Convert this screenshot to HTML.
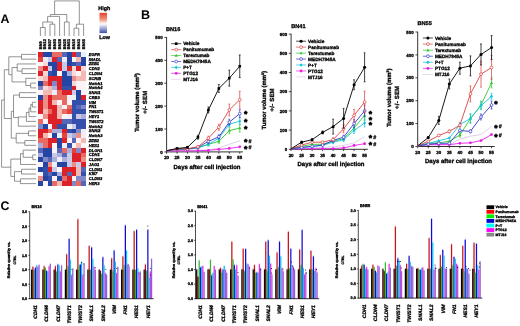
<!DOCTYPE html>
<html lang="en"><head><meta charset="utf-8"><title>Figure</title>
<style>
html,body{margin:0;padding:0;background:#fff;}
body{width:520px;height:326px;overflow:hidden;}
svg{display:block;font-family:"Liberation Sans",Arial,sans-serif;}
</style></head><body>
<svg width="520" height="326" viewBox="0 0 520 326" text-rendering="geometricPrecision">
<rect x="0" y="0" width="520" height="326" fill="#ffffff"/>
<g shape-rendering="crispEdges">
<rect x="38.00" y="52.00" width="4.85" height="4.84" fill="#dc2228"/>
<rect x="42.80" y="52.00" width="4.85" height="4.84" fill="#2445a4"/>
<rect x="47.60" y="52.00" width="4.85" height="4.84" fill="#2445a4"/>
<rect x="52.40" y="52.00" width="4.85" height="4.84" fill="#e96a62"/>
<rect x="57.20" y="52.00" width="4.85" height="4.84" fill="#e96a62"/>
<rect x="62.00" y="52.00" width="4.85" height="4.84" fill="#5666b8"/>
<rect x="66.80" y="52.00" width="4.85" height="4.84" fill="#2445a4"/>
<rect x="71.60" y="52.00" width="4.85" height="4.84" fill="#dc2228"/>
<rect x="76.40" y="52.00" width="4.85" height="4.84" fill="#5666b8"/>
<rect x="81.20" y="52.00" width="4.85" height="4.84" fill="#eeeef8"/>
<rect x="38.00" y="56.79" width="4.85" height="4.84" fill="#e2433c"/>
<rect x="42.80" y="56.79" width="4.85" height="4.84" fill="#eeeef8"/>
<rect x="47.60" y="56.79" width="4.85" height="4.84" fill="#c9c9e8"/>
<rect x="52.40" y="56.79" width="4.85" height="4.84" fill="#dc2228"/>
<rect x="57.20" y="56.79" width="4.85" height="4.84" fill="#5666b8"/>
<rect x="62.00" y="56.79" width="4.85" height="4.84" fill="#eeeef8"/>
<rect x="66.80" y="56.79" width="4.85" height="4.84" fill="#2445a4"/>
<rect x="71.60" y="56.79" width="4.85" height="4.84" fill="#fbf3f5"/>
<rect x="76.40" y="56.79" width="4.85" height="4.84" fill="#f4b9b3"/>
<rect x="81.20" y="56.79" width="4.85" height="4.84" fill="#2445a4"/>
<rect x="38.00" y="61.57" width="4.85" height="4.84" fill="#fbf3f5"/>
<rect x="42.80" y="61.57" width="4.85" height="4.84" fill="#f9d9d5"/>
<rect x="47.60" y="61.57" width="4.85" height="4.84" fill="#2445a4"/>
<rect x="52.40" y="61.57" width="4.85" height="4.84" fill="#2445a4"/>
<rect x="57.20" y="61.57" width="4.85" height="4.84" fill="#dc2228"/>
<rect x="62.00" y="61.57" width="4.85" height="4.84" fill="#c9c9e8"/>
<rect x="66.80" y="61.57" width="4.85" height="4.84" fill="#2445a4"/>
<rect x="71.60" y="61.57" width="4.85" height="4.84" fill="#3350ad"/>
<rect x="76.40" y="61.57" width="4.85" height="4.84" fill="#5666b8"/>
<rect x="81.20" y="61.57" width="4.85" height="4.84" fill="#2445a4"/>
<rect x="38.00" y="66.36" width="4.85" height="4.84" fill="#ee8d86"/>
<rect x="42.80" y="66.36" width="4.85" height="4.84" fill="#dc2228"/>
<rect x="47.60" y="66.36" width="4.85" height="4.84" fill="#c9c9e8"/>
<rect x="52.40" y="66.36" width="4.85" height="4.84" fill="#2445a4"/>
<rect x="57.20" y="66.36" width="4.85" height="4.84" fill="#dc2228"/>
<rect x="62.00" y="66.36" width="4.85" height="4.84" fill="#c9c9e8"/>
<rect x="66.80" y="66.36" width="4.85" height="4.84" fill="#dc2228"/>
<rect x="71.60" y="66.36" width="4.85" height="4.84" fill="#f9d9d5"/>
<rect x="76.40" y="66.36" width="4.85" height="4.84" fill="#dc2228"/>
<rect x="81.20" y="66.36" width="4.85" height="4.84" fill="#f9d9d5"/>
<rect x="38.00" y="71.14" width="4.85" height="4.84" fill="#dc2228"/>
<rect x="42.80" y="71.14" width="4.85" height="4.84" fill="#f9d9d5"/>
<rect x="47.60" y="71.14" width="4.85" height="4.84" fill="#3350ad"/>
<rect x="52.40" y="71.14" width="4.85" height="4.84" fill="#2445a4"/>
<rect x="57.20" y="71.14" width="4.85" height="4.84" fill="#fbf3f5"/>
<rect x="62.00" y="71.14" width="4.85" height="4.84" fill="#2445a4"/>
<rect x="66.80" y="71.14" width="4.85" height="4.84" fill="#a9aedb"/>
<rect x="71.60" y="71.14" width="4.85" height="4.84" fill="#f9d9d5"/>
<rect x="76.40" y="71.14" width="4.85" height="4.84" fill="#fbf3f5"/>
<rect x="81.20" y="71.14" width="4.85" height="4.84" fill="#f4b9b3"/>
<rect x="38.00" y="75.93" width="4.85" height="4.84" fill="#f9d9d5"/>
<rect x="42.80" y="75.93" width="4.85" height="4.84" fill="#f4b9b3"/>
<rect x="47.60" y="75.93" width="4.85" height="4.84" fill="#dc2228"/>
<rect x="52.40" y="75.93" width="4.85" height="4.84" fill="#dc2228"/>
<rect x="57.20" y="75.93" width="4.85" height="4.84" fill="#dc2228"/>
<rect x="62.00" y="75.93" width="4.85" height="4.84" fill="#2445a4"/>
<rect x="66.80" y="75.93" width="4.85" height="4.84" fill="#2445a4"/>
<rect x="71.60" y="75.93" width="4.85" height="4.84" fill="#ee8d86"/>
<rect x="76.40" y="75.93" width="4.85" height="4.84" fill="#f4b9b3"/>
<rect x="81.20" y="75.93" width="4.85" height="4.84" fill="#f4b9b3"/>
<rect x="38.00" y="80.71" width="4.85" height="4.84" fill="#2445a4"/>
<rect x="42.80" y="80.71" width="4.85" height="4.84" fill="#e96a62"/>
<rect x="47.60" y="80.71" width="4.85" height="4.84" fill="#dc2228"/>
<rect x="52.40" y="80.71" width="4.85" height="4.84" fill="#8088c8"/>
<rect x="57.20" y="80.71" width="4.85" height="4.84" fill="#dc2228"/>
<rect x="62.00" y="80.71" width="4.85" height="4.84" fill="#2445a4"/>
<rect x="66.80" y="80.71" width="4.85" height="4.84" fill="#2445a4"/>
<rect x="71.60" y="80.71" width="4.85" height="4.84" fill="#f9d9d5"/>
<rect x="76.40" y="80.71" width="4.85" height="4.84" fill="#fbf3f5"/>
<rect x="81.20" y="80.71" width="4.85" height="4.84" fill="#fbf3f5"/>
<rect x="38.00" y="85.50" width="4.85" height="4.84" fill="#8088c8"/>
<rect x="42.80" y="85.50" width="4.85" height="4.84" fill="#f9d9d5"/>
<rect x="47.60" y="85.50" width="4.85" height="4.84" fill="#f4b9b3"/>
<rect x="52.40" y="85.50" width="4.85" height="4.84" fill="#a9aedb"/>
<rect x="57.20" y="85.50" width="4.85" height="4.84" fill="#dc2228"/>
<rect x="62.00" y="85.50" width="4.85" height="4.84" fill="#3350ad"/>
<rect x="66.80" y="85.50" width="4.85" height="4.84" fill="#3350ad"/>
<rect x="71.60" y="85.50" width="4.85" height="4.84" fill="#dc2228"/>
<rect x="76.40" y="85.50" width="4.85" height="4.84" fill="#fbf3f5"/>
<rect x="81.20" y="85.50" width="4.85" height="4.84" fill="#fbf3f5"/>
<rect x="38.00" y="90.29" width="4.85" height="4.84" fill="#fbf3f5"/>
<rect x="42.80" y="90.29" width="4.85" height="4.84" fill="#f4b9b3"/>
<rect x="47.60" y="90.29" width="4.85" height="4.84" fill="#f4b9b3"/>
<rect x="52.40" y="90.29" width="4.85" height="4.84" fill="#eeeef8"/>
<rect x="57.20" y="90.29" width="4.85" height="4.84" fill="#e96a62"/>
<rect x="62.00" y="90.29" width="4.85" height="4.84" fill="#dc2228"/>
<rect x="66.80" y="90.29" width="4.85" height="4.84" fill="#dc2228"/>
<rect x="71.60" y="90.29" width="4.85" height="4.84" fill="#c9c9e8"/>
<rect x="76.40" y="90.29" width="4.85" height="4.84" fill="#2445a4"/>
<rect x="81.20" y="90.29" width="4.85" height="4.84" fill="#fbf3f5"/>
<rect x="38.00" y="95.07" width="4.85" height="4.84" fill="#2445a4"/>
<rect x="42.80" y="95.07" width="4.85" height="4.84" fill="#ee8d86"/>
<rect x="47.60" y="95.07" width="4.85" height="4.84" fill="#dc2228"/>
<rect x="52.40" y="95.07" width="4.85" height="4.84" fill="#e96a62"/>
<rect x="57.20" y="95.07" width="4.85" height="4.84" fill="#e96a62"/>
<rect x="62.00" y="95.07" width="4.85" height="4.84" fill="#e96a62"/>
<rect x="66.80" y="95.07" width="4.85" height="4.84" fill="#eeeef8"/>
<rect x="71.60" y="95.07" width="4.85" height="4.84" fill="#eeeef8"/>
<rect x="76.40" y="95.07" width="4.85" height="4.84" fill="#2445a4"/>
<rect x="81.20" y="95.07" width="4.85" height="4.84" fill="#dc2228"/>
<rect x="38.00" y="99.86" width="4.85" height="4.84" fill="#dc2228"/>
<rect x="42.80" y="99.86" width="4.85" height="4.84" fill="#ee8d86"/>
<rect x="47.60" y="99.86" width="4.85" height="4.84" fill="#dc2228"/>
<rect x="52.40" y="99.86" width="4.85" height="4.84" fill="#f4b9b3"/>
<rect x="57.20" y="99.86" width="4.85" height="4.84" fill="#fbf3f5"/>
<rect x="62.00" y="99.86" width="4.85" height="4.84" fill="#e96a62"/>
<rect x="66.80" y="99.86" width="4.85" height="4.84" fill="#fbf3f5"/>
<rect x="71.60" y="99.86" width="4.85" height="4.84" fill="#3350ad"/>
<rect x="76.40" y="99.86" width="4.85" height="4.84" fill="#3350ad"/>
<rect x="81.20" y="99.86" width="4.85" height="4.84" fill="#3350ad"/>
<rect x="38.00" y="104.64" width="4.85" height="4.84" fill="#dc2228"/>
<rect x="42.80" y="104.64" width="4.85" height="4.84" fill="#ee8d86"/>
<rect x="47.60" y="104.64" width="4.85" height="4.84" fill="#dc2228"/>
<rect x="52.40" y="104.64" width="4.85" height="4.84" fill="#dc2228"/>
<rect x="57.20" y="104.64" width="4.85" height="4.84" fill="#f4b9b3"/>
<rect x="62.00" y="104.64" width="4.85" height="4.84" fill="#fbf3f5"/>
<rect x="66.80" y="104.64" width="4.85" height="4.84" fill="#e96a62"/>
<rect x="71.60" y="104.64" width="4.85" height="4.84" fill="#3350ad"/>
<rect x="76.40" y="104.64" width="4.85" height="4.84" fill="#5666b8"/>
<rect x="81.20" y="104.64" width="4.85" height="4.84" fill="#8088c8"/>
<rect x="38.00" y="109.43" width="4.85" height="4.84" fill="#dc2228"/>
<rect x="42.80" y="109.43" width="4.85" height="4.84" fill="#f4b9b3"/>
<rect x="47.60" y="109.43" width="4.85" height="4.84" fill="#e96a62"/>
<rect x="52.40" y="109.43" width="4.85" height="4.84" fill="#dc2228"/>
<rect x="57.20" y="109.43" width="4.85" height="4.84" fill="#f4b9b3"/>
<rect x="62.00" y="109.43" width="4.85" height="4.84" fill="#e96a62"/>
<rect x="66.80" y="109.43" width="4.85" height="4.84" fill="#e2433c"/>
<rect x="71.60" y="109.43" width="4.85" height="4.84" fill="#3350ad"/>
<rect x="76.40" y="109.43" width="4.85" height="4.84" fill="#3350ad"/>
<rect x="81.20" y="109.43" width="4.85" height="4.84" fill="#3350ad"/>
<rect x="38.00" y="114.21" width="4.85" height="4.84" fill="#fbf3f5"/>
<rect x="42.80" y="114.21" width="4.85" height="4.84" fill="#ee8d86"/>
<rect x="47.60" y="114.21" width="4.85" height="4.84" fill="#dc2228"/>
<rect x="52.40" y="114.21" width="4.85" height="4.84" fill="#dc2228"/>
<rect x="57.20" y="114.21" width="4.85" height="4.84" fill="#f4b9b3"/>
<rect x="62.00" y="114.21" width="4.85" height="4.84" fill="#fbf3f5"/>
<rect x="66.80" y="114.21" width="4.85" height="4.84" fill="#eeeef8"/>
<rect x="71.60" y="114.21" width="4.85" height="4.84" fill="#3350ad"/>
<rect x="76.40" y="114.21" width="4.85" height="4.84" fill="#c9c9e8"/>
<rect x="81.20" y="114.21" width="4.85" height="4.84" fill="#a9aedb"/>
<rect x="38.00" y="119.00" width="4.85" height="4.84" fill="#e96a62"/>
<rect x="42.80" y="119.00" width="4.85" height="4.84" fill="#fbf3f5"/>
<rect x="47.60" y="119.00" width="4.85" height="4.84" fill="#dc2228"/>
<rect x="52.40" y="119.00" width="4.85" height="4.84" fill="#dc2228"/>
<rect x="57.20" y="119.00" width="4.85" height="4.84" fill="#dc2228"/>
<rect x="62.00" y="119.00" width="4.85" height="4.84" fill="#5666b8"/>
<rect x="66.80" y="119.00" width="4.85" height="4.84" fill="#5666b8"/>
<rect x="71.60" y="119.00" width="4.85" height="4.84" fill="#3350ad"/>
<rect x="76.40" y="119.00" width="4.85" height="4.84" fill="#3350ad"/>
<rect x="81.20" y="119.00" width="4.85" height="4.84" fill="#3350ad"/>
<rect x="38.00" y="123.79" width="4.85" height="4.84" fill="#8088c8"/>
<rect x="42.80" y="123.79" width="4.85" height="4.84" fill="#2445a4"/>
<rect x="47.60" y="123.79" width="4.85" height="4.84" fill="#fbf3f5"/>
<rect x="52.40" y="123.79" width="4.85" height="4.84" fill="#dc2228"/>
<rect x="57.20" y="123.79" width="4.85" height="4.84" fill="#3350ad"/>
<rect x="62.00" y="123.79" width="4.85" height="4.84" fill="#3350ad"/>
<rect x="66.80" y="123.79" width="4.85" height="4.84" fill="#eeeef8"/>
<rect x="71.60" y="123.79" width="4.85" height="4.84" fill="#c9c9e8"/>
<rect x="76.40" y="123.79" width="4.85" height="4.84" fill="#3350ad"/>
<rect x="81.20" y="123.79" width="4.85" height="4.84" fill="#3350ad"/>
<rect x="38.00" y="128.57" width="4.85" height="4.84" fill="#dc2228"/>
<rect x="42.80" y="128.57" width="4.85" height="4.84" fill="#dc2228"/>
<rect x="47.60" y="128.57" width="4.85" height="4.84" fill="#e96a62"/>
<rect x="52.40" y="128.57" width="4.85" height="4.84" fill="#a9aedb"/>
<rect x="57.20" y="128.57" width="4.85" height="4.84" fill="#a9aedb"/>
<rect x="62.00" y="128.57" width="4.85" height="4.84" fill="#dc2228"/>
<rect x="66.80" y="128.57" width="4.85" height="4.84" fill="#3350ad"/>
<rect x="71.60" y="128.57" width="4.85" height="4.84" fill="#2445a4"/>
<rect x="76.40" y="128.57" width="4.85" height="4.84" fill="#8088c8"/>
<rect x="81.20" y="128.57" width="4.85" height="4.84" fill="#eeeef8"/>
<rect x="38.00" y="133.36" width="4.85" height="4.84" fill="#dc2228"/>
<rect x="42.80" y="133.36" width="4.85" height="4.84" fill="#f4b9b3"/>
<rect x="47.60" y="133.36" width="4.85" height="4.84" fill="#fbf3f5"/>
<rect x="52.40" y="133.36" width="4.85" height="4.84" fill="#2445a4"/>
<rect x="57.20" y="133.36" width="4.85" height="4.84" fill="#eeeef8"/>
<rect x="62.00" y="133.36" width="4.85" height="4.84" fill="#e2433c"/>
<rect x="66.80" y="133.36" width="4.85" height="4.84" fill="#c9c9e8"/>
<rect x="71.60" y="133.36" width="4.85" height="4.84" fill="#a9aedb"/>
<rect x="76.40" y="133.36" width="4.85" height="4.84" fill="#ee8d86"/>
<rect x="81.20" y="133.36" width="4.85" height="4.84" fill="#eeeef8"/>
<rect x="38.00" y="138.14" width="4.85" height="4.84" fill="#e96a62"/>
<rect x="42.80" y="138.14" width="4.85" height="4.84" fill="#e96a62"/>
<rect x="47.60" y="138.14" width="4.85" height="4.84" fill="#dc2228"/>
<rect x="52.40" y="138.14" width="4.85" height="4.84" fill="#dc2228"/>
<rect x="57.20" y="138.14" width="4.85" height="4.84" fill="#2445a4"/>
<rect x="62.00" y="138.14" width="4.85" height="4.84" fill="#dc2228"/>
<rect x="66.80" y="138.14" width="4.85" height="4.84" fill="#fbf3f5"/>
<rect x="71.60" y="138.14" width="4.85" height="4.84" fill="#5666b8"/>
<rect x="76.40" y="138.14" width="4.85" height="4.84" fill="#fbf3f5"/>
<rect x="81.20" y="138.14" width="4.85" height="4.84" fill="#f4b9b3"/>
<rect x="38.00" y="142.93" width="4.85" height="4.84" fill="#a9aedb"/>
<rect x="42.80" y="142.93" width="4.85" height="4.84" fill="#e96a62"/>
<rect x="47.60" y="142.93" width="4.85" height="4.84" fill="#dc2228"/>
<rect x="52.40" y="142.93" width="4.85" height="4.84" fill="#fbf3f5"/>
<rect x="57.20" y="142.93" width="4.85" height="4.84" fill="#2445a4"/>
<rect x="62.00" y="142.93" width="4.85" height="4.84" fill="#eeeef8"/>
<rect x="66.80" y="142.93" width="4.85" height="4.84" fill="#3350ad"/>
<rect x="71.60" y="142.93" width="4.85" height="4.84" fill="#fbf3f5"/>
<rect x="76.40" y="142.93" width="4.85" height="4.84" fill="#f4b9b3"/>
<rect x="81.20" y="142.93" width="4.85" height="4.84" fill="#fbf3f5"/>
<rect x="38.00" y="147.71" width="4.85" height="4.84" fill="#5666b8"/>
<rect x="42.80" y="147.71" width="4.85" height="4.84" fill="#2445a4"/>
<rect x="47.60" y="147.71" width="4.85" height="4.84" fill="#2445a4"/>
<rect x="52.40" y="147.71" width="4.85" height="4.84" fill="#fbf3f5"/>
<rect x="57.20" y="147.71" width="4.85" height="4.84" fill="#5666b8"/>
<rect x="62.00" y="147.71" width="4.85" height="4.84" fill="#e96a62"/>
<rect x="66.80" y="147.71" width="4.85" height="4.84" fill="#a9aedb"/>
<rect x="71.60" y="147.71" width="4.85" height="4.84" fill="#e2433c"/>
<rect x="76.40" y="147.71" width="4.85" height="4.84" fill="#8088c8"/>
<rect x="81.20" y="147.71" width="4.85" height="4.84" fill="#dc2228"/>
<rect x="38.00" y="152.50" width="4.85" height="4.84" fill="#a9aedb"/>
<rect x="42.80" y="152.50" width="4.85" height="4.84" fill="#2445a4"/>
<rect x="47.60" y="152.50" width="4.85" height="4.84" fill="#2445a4"/>
<rect x="52.40" y="152.50" width="4.85" height="4.84" fill="#c9c9e8"/>
<rect x="57.20" y="152.50" width="4.85" height="4.84" fill="#a9aedb"/>
<rect x="62.00" y="152.50" width="4.85" height="4.84" fill="#5666b8"/>
<rect x="66.80" y="152.50" width="4.85" height="4.84" fill="#c9c9e8"/>
<rect x="71.60" y="152.50" width="4.85" height="4.84" fill="#dc2228"/>
<rect x="76.40" y="152.50" width="4.85" height="4.84" fill="#dc2228"/>
<rect x="81.20" y="152.50" width="4.85" height="4.84" fill="#e96a62"/>
<rect x="38.00" y="157.29" width="4.85" height="4.84" fill="#2445a4"/>
<rect x="42.80" y="157.29" width="4.85" height="4.84" fill="#8088c8"/>
<rect x="47.60" y="157.29" width="4.85" height="4.84" fill="#5666b8"/>
<rect x="52.40" y="157.29" width="4.85" height="4.84" fill="#a9aedb"/>
<rect x="57.20" y="157.29" width="4.85" height="4.84" fill="#eeeef8"/>
<rect x="62.00" y="157.29" width="4.85" height="4.84" fill="#a9aedb"/>
<rect x="66.80" y="157.29" width="4.85" height="4.84" fill="#c9c9e8"/>
<rect x="71.60" y="157.29" width="4.85" height="4.84" fill="#dc2228"/>
<rect x="76.40" y="157.29" width="4.85" height="4.84" fill="#dc2228"/>
<rect x="81.20" y="157.29" width="4.85" height="4.84" fill="#ee8d86"/>
<rect x="38.00" y="162.07" width="4.85" height="4.84" fill="#fbf3f5"/>
<rect x="42.80" y="162.07" width="4.85" height="4.84" fill="#2445a4"/>
<rect x="47.60" y="162.07" width="4.85" height="4.84" fill="#ee8d86"/>
<rect x="52.40" y="162.07" width="4.85" height="4.84" fill="#eeeef8"/>
<rect x="57.20" y="162.07" width="4.85" height="4.84" fill="#2445a4"/>
<rect x="62.00" y="162.07" width="4.85" height="4.84" fill="#2445a4"/>
<rect x="66.80" y="162.07" width="4.85" height="4.84" fill="#c9c9e8"/>
<rect x="71.60" y="162.07" width="4.85" height="4.84" fill="#ee8d86"/>
<rect x="76.40" y="162.07" width="4.85" height="4.84" fill="#c9c9e8"/>
<rect x="81.20" y="162.07" width="4.85" height="4.84" fill="#dc2228"/>
<rect x="38.00" y="166.86" width="4.85" height="4.84" fill="#2445a4"/>
<rect x="42.80" y="166.86" width="4.85" height="4.84" fill="#3350ad"/>
<rect x="47.60" y="166.86" width="4.85" height="4.84" fill="#dc2228"/>
<rect x="52.40" y="166.86" width="4.85" height="4.84" fill="#c9c9e8"/>
<rect x="57.20" y="166.86" width="4.85" height="4.84" fill="#fbf3f5"/>
<rect x="62.00" y="166.86" width="4.85" height="4.84" fill="#dc2228"/>
<rect x="66.80" y="166.86" width="4.85" height="4.84" fill="#dc2228"/>
<rect x="71.60" y="166.86" width="4.85" height="4.84" fill="#dc2228"/>
<rect x="76.40" y="166.86" width="4.85" height="4.84" fill="#f4b9b3"/>
<rect x="81.20" y="166.86" width="4.85" height="4.84" fill="#5666b8"/>
<rect x="38.00" y="171.64" width="4.85" height="4.84" fill="#fbf3f5"/>
<rect x="42.80" y="171.64" width="4.85" height="4.84" fill="#3350ad"/>
<rect x="47.60" y="171.64" width="4.85" height="4.84" fill="#5666b8"/>
<rect x="52.40" y="171.64" width="4.85" height="4.84" fill="#2445a4"/>
<rect x="57.20" y="171.64" width="4.85" height="4.84" fill="#a9aedb"/>
<rect x="62.00" y="171.64" width="4.85" height="4.84" fill="#dc2228"/>
<rect x="66.80" y="171.64" width="4.85" height="4.84" fill="#5666b8"/>
<rect x="71.60" y="171.64" width="4.85" height="4.84" fill="#dc2228"/>
<rect x="76.40" y="171.64" width="4.85" height="4.84" fill="#f4b9b3"/>
<rect x="81.20" y="171.64" width="4.85" height="4.84" fill="#3350ad"/>
<rect x="38.00" y="176.43" width="4.85" height="4.84" fill="#ee8d86"/>
<rect x="42.80" y="176.43" width="4.85" height="4.84" fill="#2445a4"/>
<rect x="47.60" y="176.43" width="4.85" height="4.84" fill="#3350ad"/>
<rect x="52.40" y="176.43" width="4.85" height="4.84" fill="#fbf3f5"/>
<rect x="57.20" y="176.43" width="4.85" height="4.84" fill="#2445a4"/>
<rect x="62.00" y="176.43" width="4.85" height="4.84" fill="#e96a62"/>
<rect x="66.80" y="176.43" width="4.85" height="4.84" fill="#dc2228"/>
<rect x="71.60" y="176.43" width="4.85" height="4.84" fill="#fbf3f5"/>
<rect x="76.40" y="176.43" width="4.85" height="4.84" fill="#8088c8"/>
<rect x="81.20" y="176.43" width="4.85" height="4.84" fill="#8088c8"/>
<rect x="38.00" y="181.21" width="4.85" height="4.84" fill="#2445a4"/>
<rect x="42.80" y="181.21" width="4.85" height="4.84" fill="#fbf3f5"/>
<rect x="47.60" y="181.21" width="4.85" height="4.84" fill="#2445a4"/>
<rect x="52.40" y="181.21" width="4.85" height="4.84" fill="#e96a62"/>
<rect x="57.20" y="181.21" width="4.85" height="4.84" fill="#f4b9b3"/>
<rect x="62.00" y="181.21" width="4.85" height="4.84" fill="#dc2228"/>
<rect x="66.80" y="181.21" width="4.85" height="4.84" fill="#dc2228"/>
<rect x="71.60" y="181.21" width="4.85" height="4.84" fill="#8088c8"/>
<rect x="76.40" y="181.21" width="4.85" height="4.84" fill="#e96a62"/>
<rect x="81.20" y="181.21" width="4.85" height="4.84" fill="#5666b8"/>
</g>
<text x="88.80" y="55.84" font-size="4.0px" font-weight="bold" font-style="italic" text-anchor="start" fill="#000" stroke="#000" stroke-width="0.3">EGFR</text>
<text x="88.80" y="60.63" font-size="4.0px" font-weight="bold" font-style="italic" text-anchor="start" fill="#000" stroke="#000" stroke-width="0.3">INADL</text>
<text x="88.80" y="65.41" font-size="4.0px" font-weight="bold" font-style="italic" text-anchor="start" fill="#000" stroke="#000" stroke-width="0.3">ZEB1</text>
<text x="88.80" y="70.20" font-size="4.0px" font-weight="bold" font-style="italic" text-anchor="start" fill="#000" stroke="#000" stroke-width="0.3">CDH2</text>
<text x="88.80" y="74.99" font-size="4.0px" font-weight="bold" font-style="italic" text-anchor="start" fill="#000" stroke="#000" stroke-width="0.3">CLDN4</text>
<text x="88.80" y="79.77" font-size="4.0px" font-weight="bold" font-style="italic" text-anchor="start" fill="#000" stroke="#000" stroke-width="0.3">SCRIB</text>
<text x="88.80" y="84.56" font-size="4.0px" font-weight="bold" font-style="italic" text-anchor="start" fill="#000" stroke="#000" stroke-width="0.3">Notch1</text>
<text x="88.80" y="89.34" font-size="4.0px" font-weight="bold" font-style="italic" text-anchor="start" fill="#000" stroke="#000" stroke-width="0.3">Notch4</text>
<text x="88.80" y="94.13" font-size="4.0px" font-weight="bold" font-style="italic" text-anchor="start" fill="#000" stroke="#000" stroke-width="0.3">SNAI1</text>
<text x="88.80" y="98.91" font-size="4.0px" font-weight="bold" font-style="italic" text-anchor="start" fill="#000" stroke="#000" stroke-width="0.3">CRB3</text>
<text x="88.80" y="103.70" font-size="4.0px" font-weight="bold" font-style="italic" text-anchor="start" fill="#000" stroke="#000" stroke-width="0.3">VIM</text>
<text x="88.80" y="108.49" font-size="4.0px" font-weight="bold" font-style="italic" text-anchor="start" fill="#000" stroke="#000" stroke-width="0.3">FN1</text>
<text x="88.80" y="113.27" font-size="4.0px" font-weight="bold" font-style="italic" text-anchor="start" fill="#000" stroke="#000" stroke-width="0.3">TWIST1</text>
<text x="88.80" y="118.06" font-size="4.0px" font-weight="bold" font-style="italic" text-anchor="start" fill="#000" stroke="#000" stroke-width="0.3">HEY1</text>
<text x="88.80" y="122.84" font-size="4.0px" font-weight="bold" font-style="italic" text-anchor="start" fill="#000" stroke="#000" stroke-width="0.3">TWIST2</text>
<text x="88.80" y="127.63" font-size="4.0px" font-weight="bold" font-style="italic" text-anchor="start" fill="#000" stroke="#000" stroke-width="0.3">Notch2</text>
<text x="88.80" y="132.41" font-size="4.0px" font-weight="bold" font-style="italic" text-anchor="start" fill="#000" stroke="#000" stroke-width="0.3">SNAI2</text>
<text x="88.80" y="137.20" font-size="4.0px" font-weight="bold" font-style="italic" text-anchor="start" fill="#000" stroke="#000" stroke-width="0.3">Notch3</text>
<text x="88.80" y="141.99" font-size="4.0px" font-weight="bold" font-style="italic" text-anchor="start" fill="#000" stroke="#000" stroke-width="0.3">ZEB2</text>
<text x="88.80" y="146.77" font-size="4.0px" font-weight="bold" font-style="italic" text-anchor="start" fill="#000" stroke="#000" stroke-width="0.3">HES1</text>
<text x="88.80" y="151.56" font-size="4.0px" font-weight="bold" font-style="italic" text-anchor="start" fill="#000" stroke="#000" stroke-width="0.3">DLGH1</text>
<text x="88.80" y="156.34" font-size="4.0px" font-weight="bold" font-style="italic" text-anchor="start" fill="#000" stroke="#000" stroke-width="0.3">CDH1</text>
<text x="88.80" y="161.13" font-size="4.0px" font-weight="bold" font-style="italic" text-anchor="start" fill="#000" stroke="#000" stroke-width="0.3">CLDN7</text>
<text x="88.80" y="165.91" font-size="4.0px" font-weight="bold" font-style="italic" text-anchor="start" fill="#000" stroke="#000" stroke-width="0.3">JAG1</text>
<text x="88.80" y="170.70" font-size="4.0px" font-weight="bold" font-style="italic" text-anchor="start" fill="#000" stroke="#000" stroke-width="0.3">CLDN1</text>
<text x="88.80" y="175.49" font-size="4.0px" font-weight="bold" font-style="italic" text-anchor="start" fill="#000" stroke="#000" stroke-width="0.3">Ki67</text>
<text x="88.80" y="180.27" font-size="4.0px" font-weight="bold" font-style="italic" text-anchor="start" fill="#000" stroke="#000" stroke-width="0.3">CLDN3</text>
<text x="88.80" y="185.06" font-size="4.0px" font-weight="bold" font-style="italic" text-anchor="start" fill="#000" stroke="#000" stroke-width="0.3">HER3</text>
<text x="41.70" y="49.20" font-size="4.0px" font-weight="bold" font-style="normal" text-anchor="start" fill="#000" transform="rotate(-90 41.70 49.20)" stroke="#000" stroke-width="0.3">BN9</text>
<text x="46.50" y="49.20" font-size="4.0px" font-weight="bold" font-style="normal" text-anchor="start" fill="#000" transform="rotate(-90 46.50 49.20)" stroke="#000" stroke-width="0.3">BN12</text>
<text x="51.30" y="49.20" font-size="4.0px" font-weight="bold" font-style="normal" text-anchor="start" fill="#000" transform="rotate(-90 51.30 49.20)" stroke="#000" stroke-width="0.3">BN37</text>
<text x="56.10" y="49.20" font-size="4.0px" font-weight="bold" font-style="normal" text-anchor="start" fill="#000" transform="rotate(-90 56.10 49.20)" stroke="#000" stroke-width="0.3">BN60</text>
<text x="60.90" y="49.20" font-size="4.0px" font-weight="bold" font-style="normal" text-anchor="start" fill="#000" transform="rotate(-90 60.90 49.20)" stroke="#000" stroke-width="0.3">BN28</text>
<text x="65.70" y="49.20" font-size="4.0px" font-weight="bold" font-style="normal" text-anchor="start" fill="#000" transform="rotate(-90 65.70 49.20)" stroke="#000" stroke-width="0.3">BN25</text>
<text x="70.50" y="49.20" font-size="4.0px" font-weight="bold" font-style="normal" text-anchor="start" fill="#000" transform="rotate(-90 70.50 49.20)" stroke="#000" stroke-width="0.3">BN51</text>
<text x="75.30" y="49.20" font-size="4.0px" font-weight="bold" font-style="normal" text-anchor="start" fill="#000" transform="rotate(-90 75.30 49.20)" stroke="#000" stroke-width="0.3">BN16</text>
<text x="80.10" y="49.20" font-size="4.0px" font-weight="bold" font-style="normal" text-anchor="start" fill="#000" transform="rotate(-90 80.10 49.20)" stroke="#000" stroke-width="0.3">BN41</text>
<text x="84.90" y="49.20" font-size="4.0px" font-weight="bold" font-style="normal" text-anchor="start" fill="#000" transform="rotate(-90 84.90 49.20)" stroke="#000" stroke-width="0.3">BN55</text>
<polyline points="40.40,36.00 40.40,27.50 45.20,27.50 45.20,36.00" fill="none" stroke="#666" stroke-width="0.7" stroke-linejoin="round"/>
<polyline points="50.00,36.00 50.00,24.20 54.80,24.20 54.80,36.00" fill="none" stroke="#666" stroke-width="0.7" stroke-linejoin="round"/>
<polyline points="42.80,27.50 42.80,22.00 52.40,22.00 52.40,24.20" fill="none" stroke="#666" stroke-width="0.7" stroke-linejoin="round"/>
<polyline points="47.60,22.00 47.60,16.40 59.60,16.40 59.60,36.00" fill="none" stroke="#666" stroke-width="0.7" stroke-linejoin="round"/>
<polyline points="64.40,36.00 64.40,22.00 69.20,22.00 69.20,36.00" fill="none" stroke="#666" stroke-width="0.7" stroke-linejoin="round"/>
<polyline points="50.60,16.40 50.60,14.50 66.80,14.50 66.80,22.00" fill="none" stroke="#666" stroke-width="0.7" stroke-linejoin="round"/>
<polyline points="74.00,36.00 74.00,28.20 78.80,28.20 78.80,36.00" fill="none" stroke="#666" stroke-width="0.7" stroke-linejoin="round"/>
<polyline points="76.40,28.20 76.40,24.20 83.60,24.20 83.60,36.00" fill="none" stroke="#666" stroke-width="0.7" stroke-linejoin="round"/>
<polyline points="54.60,14.50 54.60,0.90 79.30,0.90 79.30,24.20" fill="none" stroke="#666" stroke-width="0.7" stroke-linejoin="round"/>
<polyline points="36.20,54.39 21.50,54.39 21.50,59.18 36.20,59.18" fill="none" stroke="#666" stroke-width="0.7" stroke-linejoin="round"/>
<polyline points="36.20,68.75 22.00,68.75 22.00,73.54 36.20,73.54" fill="none" stroke="#666" stroke-width="0.7" stroke-linejoin="round"/>
<polyline points="36.20,63.96 17.20,63.96 17.20,71.14 22.00,71.14" fill="none" stroke="#666" stroke-width="0.7" stroke-linejoin="round"/>
<polyline points="36.20,83.11 30.70,83.11 30.70,87.89 36.20,87.89" fill="none" stroke="#666" stroke-width="0.7" stroke-linejoin="round"/>
<polyline points="36.20,78.32 25.80,78.32 25.80,85.50 30.70,85.50" fill="none" stroke="#666" stroke-width="0.7" stroke-linejoin="round"/>
<polyline points="17.20,67.55 12.00,67.55 12.00,81.91 25.80,81.91" fill="none" stroke="#666" stroke-width="0.7" stroke-linejoin="round"/>
<polyline points="21.50,56.79 8.80,56.79 8.80,74.73 12.00,74.73" fill="none" stroke="#666" stroke-width="0.7" stroke-linejoin="round"/>
<polyline points="36.20,92.68 19.40,92.68 19.40,97.46 36.20,97.46" fill="none" stroke="#666" stroke-width="0.7" stroke-linejoin="round"/>
<polyline points="36.20,102.25 32.30,102.25 32.30,107.04 36.20,107.04" fill="none" stroke="#666" stroke-width="0.7" stroke-linejoin="round"/>
<polyline points="32.30,104.64 30.70,104.64 30.70,111.82 36.20,111.82" fill="none" stroke="#666" stroke-width="0.7" stroke-linejoin="round"/>
<polyline points="30.70,108.23 29.00,108.23 29.00,116.61 36.20,116.61" fill="none" stroke="#666" stroke-width="0.7" stroke-linejoin="round"/>
<polyline points="29.00,112.42 26.40,112.42 26.40,121.39 36.20,121.39" fill="none" stroke="#666" stroke-width="0.7" stroke-linejoin="round"/>
<polyline points="26.40,116.91 18.30,116.91 18.30,126.18 36.20,126.18" fill="none" stroke="#666" stroke-width="0.7" stroke-linejoin="round"/>
<polyline points="19.40,95.07 13.50,95.07 13.50,117.54 18.30,117.54" fill="none" stroke="#666" stroke-width="0.7" stroke-linejoin="round"/>
<polyline points="36.20,130.96 28.50,130.96 28.50,135.75 36.20,135.75" fill="none" stroke="#666" stroke-width="0.7" stroke-linejoin="round"/>
<polyline points="36.20,140.54 24.80,140.54 24.80,145.32 36.20,145.32" fill="none" stroke="#666" stroke-width="0.7" stroke-linejoin="round"/>
<polyline points="28.50,133.36 16.20,133.36 16.20,142.93 24.80,142.93" fill="none" stroke="#666" stroke-width="0.7" stroke-linejoin="round"/>
<polyline points="13.50,111.31 11.30,111.31 11.30,138.14 16.20,138.14" fill="none" stroke="#666" stroke-width="0.7" stroke-linejoin="round"/>
<polyline points="8.80,69.76 4.30,69.76 4.30,118.50 11.30,118.50" fill="none" stroke="#666" stroke-width="0.7" stroke-linejoin="round"/>
<polyline points="36.20,154.89 32.80,154.89 32.80,159.68 36.20,159.68" fill="none" stroke="#666" stroke-width="0.7" stroke-linejoin="round"/>
<polyline points="36.20,150.11 23.20,150.11 23.20,157.29 32.80,157.29" fill="none" stroke="#666" stroke-width="0.7" stroke-linejoin="round"/>
<polyline points="23.20,153.70 20.50,153.70 20.50,164.46 36.20,164.46" fill="none" stroke="#666" stroke-width="0.7" stroke-linejoin="round"/>
<polyline points="36.20,169.25 21.50,169.25 21.50,174.04 36.20,174.04" fill="none" stroke="#666" stroke-width="0.7" stroke-linejoin="round"/>
<polyline points="36.20,178.82 20.50,178.82 20.50,183.61 36.20,183.61" fill="none" stroke="#666" stroke-width="0.7" stroke-linejoin="round"/>
<polyline points="21.50,171.64 14.50,171.64 14.50,181.21 20.50,181.21" fill="none" stroke="#666" stroke-width="0.7" stroke-linejoin="round"/>
<polyline points="20.50,159.08 10.80,159.08 10.80,176.43 14.50,176.43" fill="none" stroke="#666" stroke-width="0.7" stroke-linejoin="round"/>
<polyline points="4.30,100.00 1.60,100.00 1.60,167.20 10.80,167.20" fill="none" stroke="#666" stroke-width="0.7" stroke-linejoin="round"/>
<defs><filter id="bl" x="-5%" y="-5%" width="110%" height="110%"><feGaussianBlur stdDeviation="0.55 0.25"/></filter><linearGradient id="hl" x1="0" y1="0" x2="0" y2="1"><stop offset="0" stop-color="#e8402c"/><stop offset="0.3" stop-color="#f08a72"/><stop offset="0.55" stop-color="#ffffff"/><stop offset="0.75" stop-color="#a9aedb"/><stop offset="1" stop-color="#3a4fa8"/></linearGradient></defs>
<rect x="99.5" y="12.8" width="7.5" height="20.3" fill="url(#hl)"/>
<text x="98.30" y="10.00" font-size="5.4px" font-weight="bold" font-style="normal" text-anchor="start" fill="#000" stroke="#000" stroke-width="0.3">High</text>
<text x="99.20" y="39.40" font-size="5.4px" font-weight="bold" font-style="normal" text-anchor="start" fill="#000" stroke="#000" stroke-width="0.3">Low</text>
<text x="0.60" y="22.70" font-size="12.4px" font-weight="bold" font-style="normal" text-anchor="start" fill="#000">A</text>
<text x="141.00" y="19.00" font-size="12.6px" font-weight="bold" font-style="normal" text-anchor="start" fill="#000">B</text>
<text x="0.60" y="209.50" font-size="12.4px" font-weight="bold" font-style="normal" text-anchor="start" fill="#000">C</text>
<line x1="166.60" y1="37.10" x2="166.60" y2="152.25" stroke="#000" stroke-width="0.8"/>
<line x1="166.20" y1="151.90" x2="242.95" y2="151.90" stroke="#000" stroke-width="0.8"/>
<line x1="164.30" y1="151.90" x2="166.60" y2="151.90" stroke="#000" stroke-width="0.7"/>
<text x="162.60" y="153.50" font-size="4.4px" font-weight="bold" font-style="normal" text-anchor="end" fill="#000" stroke="#000" stroke-width="0.3">0</text>
<line x1="164.30" y1="129.00" x2="166.60" y2="129.00" stroke="#000" stroke-width="0.7"/>
<text x="162.60" y="130.60" font-size="4.4px" font-weight="bold" font-style="normal" text-anchor="end" fill="#000" stroke="#000" stroke-width="0.3">100</text>
<line x1="164.30" y1="106.10" x2="166.60" y2="106.10" stroke="#000" stroke-width="0.7"/>
<text x="162.60" y="107.70" font-size="4.4px" font-weight="bold" font-style="normal" text-anchor="end" fill="#000" stroke="#000" stroke-width="0.3">200</text>
<line x1="164.30" y1="83.20" x2="166.60" y2="83.20" stroke="#000" stroke-width="0.7"/>
<text x="162.60" y="84.80" font-size="4.4px" font-weight="bold" font-style="normal" text-anchor="end" fill="#000" stroke="#000" stroke-width="0.3">300</text>
<line x1="164.30" y1="60.30" x2="166.60" y2="60.30" stroke="#000" stroke-width="0.7"/>
<text x="162.60" y="61.90" font-size="4.4px" font-weight="bold" font-style="normal" text-anchor="end" fill="#000" stroke="#000" stroke-width="0.3">400</text>
<line x1="164.30" y1="37.40" x2="166.60" y2="37.40" stroke="#000" stroke-width="0.7"/>
<text x="162.60" y="39.00" font-size="4.4px" font-weight="bold" font-style="normal" text-anchor="end" fill="#000" stroke="#000" stroke-width="0.3">500</text>
<line x1="166.60" y1="151.90" x2="166.60" y2="153.70" stroke="#000" stroke-width="0.7"/>
<text x="166.60" y="159.30" font-size="4.4px" font-weight="bold" font-style="normal" text-anchor="middle" fill="#000" stroke="#000" stroke-width="0.3">20</text>
<line x1="177.05" y1="151.90" x2="177.05" y2="153.70" stroke="#000" stroke-width="0.7"/>
<text x="177.05" y="159.30" font-size="4.4px" font-weight="bold" font-style="normal" text-anchor="middle" fill="#000" stroke="#000" stroke-width="0.3">25</text>
<line x1="187.50" y1="151.90" x2="187.50" y2="153.70" stroke="#000" stroke-width="0.7"/>
<text x="187.50" y="159.30" font-size="4.4px" font-weight="bold" font-style="normal" text-anchor="middle" fill="#000" stroke="#000" stroke-width="0.3">30</text>
<line x1="197.95" y1="151.90" x2="197.95" y2="153.70" stroke="#000" stroke-width="0.7"/>
<text x="197.95" y="159.30" font-size="4.4px" font-weight="bold" font-style="normal" text-anchor="middle" fill="#000" stroke="#000" stroke-width="0.3">35</text>
<line x1="208.40" y1="151.90" x2="208.40" y2="153.70" stroke="#000" stroke-width="0.7"/>
<text x="208.40" y="159.30" font-size="4.4px" font-weight="bold" font-style="normal" text-anchor="middle" fill="#000" stroke="#000" stroke-width="0.3">40</text>
<line x1="218.85" y1="151.90" x2="218.85" y2="153.70" stroke="#000" stroke-width="0.7"/>
<text x="218.85" y="159.30" font-size="4.4px" font-weight="bold" font-style="normal" text-anchor="middle" fill="#000" stroke="#000" stroke-width="0.3">45</text>
<line x1="229.30" y1="151.90" x2="229.30" y2="153.70" stroke="#000" stroke-width="0.7"/>
<text x="229.30" y="159.30" font-size="4.4px" font-weight="bold" font-style="normal" text-anchor="middle" fill="#000" stroke="#000" stroke-width="0.3">50</text>
<line x1="239.75" y1="151.90" x2="239.75" y2="153.70" stroke="#000" stroke-width="0.7"/>
<text x="239.75" y="159.30" font-size="4.4px" font-weight="bold" font-style="normal" text-anchor="middle" fill="#000" stroke="#000" stroke-width="0.3">55</text>
<text x="166.00" y="30.90" font-size="5.6px" font-weight="bold" font-style="normal" text-anchor="start" fill="#000" stroke="#000" stroke-width="0.3">BN16</text>
<text x="207.00" y="169.10" font-size="6.0px" font-weight="bold" font-style="normal" text-anchor="middle" fill="#000" stroke="#000" stroke-width="0.3">Days after cell injection</text>
<text x="139.40" y="102.60" font-size="5.95px" font-weight="bold" font-style="normal" text-anchor="middle" fill="#000" transform="rotate(-90 139.40 102.60)" stroke="#000" stroke-width="0.3">Tumor volume (mm<tspan font-size="3.6px" dy="-1.9">3</tspan><tspan dy="1.9">)</tspan></text>
<text x="146.70" y="102.30" font-size="6.0px" font-weight="bold" font-style="normal" text-anchor="middle" fill="#000" transform="rotate(-90 146.70 102.30)" textLength="23" lengthAdjust="spacing" stroke="#000" stroke-width="0.3">+/- SEM</text>
<polyline points="166.60,150.75 177.05,150.07 187.50,150.07 197.95,150.07 208.40,150.07 218.85,148.01 229.30,144.34 239.75,140.68" fill="none" stroke="#dccbe8" stroke-width="0.9" stroke-linejoin="round"/>
<polyline points="166.60,150.98 177.05,150.75 187.50,150.75 197.95,150.75 208.40,150.30 218.85,149.38 229.30,148.47 239.75,146.86" fill="none" stroke="#e81ee8" stroke-width="0.9" stroke-linejoin="round"/>
<circle cx="177.05" cy="150.75" r="1.40" fill="#e81ee8"/>
<circle cx="187.50" cy="150.75" r="1.40" fill="#e81ee8"/>
<circle cx="197.95" cy="150.75" r="1.40" fill="#e81ee8"/>
<circle cx="208.40" cy="150.30" r="1.40" fill="#e81ee8"/>
<circle cx="218.85" cy="149.38" r="1.40" fill="#e81ee8"/>
<circle cx="229.30" cy="148.47" r="1.40" fill="#e81ee8"/>
<circle cx="239.75" cy="146.86" r="1.40" fill="#e81ee8"/>
<line x1="208.40" y1="142.84" x2="208.40" y2="145.84" stroke="#2fc82f" stroke-width="0.75"/>
<line x1="207.40" y1="142.84" x2="209.40" y2="142.84" stroke="#2fc82f" stroke-width="0.6"/>
<line x1="207.40" y1="145.84" x2="209.40" y2="145.84" stroke="#2fc82f" stroke-width="0.6"/>
<line x1="218.85" y1="139.37" x2="218.85" y2="143.37" stroke="#2fc82f" stroke-width="0.75"/>
<line x1="217.85" y1="139.37" x2="219.85" y2="139.37" stroke="#2fc82f" stroke-width="0.6"/>
<line x1="217.85" y1="143.37" x2="219.85" y2="143.37" stroke="#2fc82f" stroke-width="0.6"/>
<line x1="229.30" y1="127.60" x2="229.30" y2="133.60" stroke="#2fc82f" stroke-width="0.75"/>
<line x1="228.30" y1="127.60" x2="230.30" y2="127.60" stroke="#2fc82f" stroke-width="0.6"/>
<line x1="228.30" y1="133.60" x2="230.30" y2="133.60" stroke="#2fc82f" stroke-width="0.6"/>
<line x1="239.75" y1="124.08" x2="239.75" y2="132.08" stroke="#2fc82f" stroke-width="0.75"/>
<line x1="238.75" y1="124.08" x2="240.75" y2="124.08" stroke="#2fc82f" stroke-width="0.6"/>
<line x1="238.75" y1="132.08" x2="240.75" y2="132.08" stroke="#2fc82f" stroke-width="0.6"/>
<polyline points="166.60,150.75 177.05,148.69 187.50,148.92 197.95,147.32 208.40,144.34 218.85,141.37 229.30,130.60 239.75,128.08" fill="none" stroke="#2fc82f" stroke-width="0.9" stroke-linejoin="round"/>
<path d="M177.05 147.01 L178.62 149.93 L175.48 149.93 Z" fill="#2fc82f"/>
<path d="M187.50 147.24 L189.07 150.16 L185.93 150.16 Z" fill="#2fc82f"/>
<path d="M197.95 145.64 L199.52 148.55 L196.38 148.55 Z" fill="#2fc82f"/>
<path d="M208.40 142.66 L209.97 145.58 L206.83 145.58 Z" fill="#2fc82f"/>
<path d="M218.85 139.69 L220.42 142.60 L217.28 142.60 Z" fill="#2fc82f"/>
<path d="M229.30 128.92 L230.87 131.84 L227.73 131.84 Z" fill="#2fc82f"/>
<path d="M239.75 126.40 L241.32 129.32 L238.18 129.32 Z" fill="#2fc82f"/>
<line x1="208.40" y1="142.84" x2="208.40" y2="145.84" stroke="#19c4e0" stroke-width="0.75"/>
<line x1="207.40" y1="142.84" x2="209.40" y2="142.84" stroke="#19c4e0" stroke-width="0.6"/>
<line x1="207.40" y1="145.84" x2="209.40" y2="145.84" stroke="#19c4e0" stroke-width="0.6"/>
<line x1="218.85" y1="136.16" x2="218.85" y2="140.16" stroke="#19c4e0" stroke-width="0.75"/>
<line x1="217.85" y1="136.16" x2="219.85" y2="136.16" stroke="#19c4e0" stroke-width="0.6"/>
<line x1="217.85" y1="140.16" x2="219.85" y2="140.16" stroke="#19c4e0" stroke-width="0.6"/>
<line x1="229.30" y1="121.69" x2="229.30" y2="126.69" stroke="#19c4e0" stroke-width="0.75"/>
<line x1="228.30" y1="121.69" x2="230.30" y2="121.69" stroke="#19c4e0" stroke-width="0.6"/>
<line x1="228.30" y1="126.69" x2="230.30" y2="126.69" stroke="#19c4e0" stroke-width="0.6"/>
<line x1="239.75" y1="117.71" x2="239.75" y2="124.71" stroke="#19c4e0" stroke-width="0.75"/>
<line x1="238.75" y1="117.71" x2="240.75" y2="117.71" stroke="#19c4e0" stroke-width="0.6"/>
<line x1="238.75" y1="124.71" x2="240.75" y2="124.71" stroke="#19c4e0" stroke-width="0.6"/>
<polyline points="166.60,150.75 177.05,149.15 187.50,149.15 197.95,148.01 208.40,144.34 218.85,138.16 229.30,124.19 239.75,121.21" fill="none" stroke="#19c4e0" stroke-width="0.9" stroke-linejoin="round"/>
<path d="M177.05 147.36 L178.62 149.15 L177.05 150.94 L175.48 149.15 Z" fill="#19c4e0"/>
<path d="M187.50 147.36 L189.07 149.15 L187.50 150.94 L185.93 149.15 Z" fill="#19c4e0"/>
<path d="M197.95 146.22 L199.52 148.01 L197.95 149.80 L196.38 148.01 Z" fill="#19c4e0"/>
<path d="M208.40 142.55 L209.97 144.34 L208.40 146.14 L206.83 144.34 Z" fill="#19c4e0"/>
<path d="M218.85 136.37 L220.42 138.16 L218.85 139.95 L217.28 138.16 Z" fill="#19c4e0"/>
<path d="M229.30 122.40 L230.87 124.19 L229.30 125.98 L227.73 124.19 Z" fill="#19c4e0"/>
<path d="M239.75 119.42 L241.32 121.21 L239.75 123.01 L238.18 121.21 Z" fill="#19c4e0"/>
<line x1="208.40" y1="139.37" x2="208.40" y2="143.37" stroke="#3238cc" stroke-width="0.75"/>
<line x1="207.40" y1="139.37" x2="209.40" y2="139.37" stroke="#3238cc" stroke-width="0.6"/>
<line x1="207.40" y1="143.37" x2="209.40" y2="143.37" stroke="#3238cc" stroke-width="0.6"/>
<line x1="218.85" y1="134.79" x2="218.85" y2="138.79" stroke="#3238cc" stroke-width="0.75"/>
<line x1="217.85" y1="134.79" x2="219.85" y2="134.79" stroke="#3238cc" stroke-width="0.6"/>
<line x1="217.85" y1="138.79" x2="219.85" y2="138.79" stroke="#3238cc" stroke-width="0.6"/>
<line x1="229.30" y1="119.13" x2="229.30" y2="125.13" stroke="#3238cc" stroke-width="0.75"/>
<line x1="228.30" y1="119.13" x2="230.30" y2="119.13" stroke="#3238cc" stroke-width="0.6"/>
<line x1="228.30" y1="125.13" x2="230.30" y2="125.13" stroke="#3238cc" stroke-width="0.6"/>
<line x1="239.75" y1="109.66" x2="239.75" y2="117.66" stroke="#3238cc" stroke-width="0.75"/>
<line x1="238.75" y1="109.66" x2="240.75" y2="109.66" stroke="#3238cc" stroke-width="0.6"/>
<line x1="238.75" y1="117.66" x2="240.75" y2="117.66" stroke="#3238cc" stroke-width="0.6"/>
<polyline points="166.60,150.75 177.05,149.15 187.50,148.92 197.95,147.32 208.40,141.37 218.85,136.79 229.30,122.13 239.75,113.66" fill="none" stroke="#3238cc" stroke-width="0.9" stroke-linejoin="round"/>
<circle cx="177.05" cy="149.15" r="1.40" fill="#fff" stroke="#3238cc" stroke-width="0.7"/>
<circle cx="187.50" cy="148.92" r="1.40" fill="#fff" stroke="#3238cc" stroke-width="0.7"/>
<circle cx="197.95" cy="147.32" r="1.40" fill="#fff" stroke="#3238cc" stroke-width="0.7"/>
<circle cx="208.40" cy="141.37" r="1.40" fill="#fff" stroke="#3238cc" stroke-width="0.7"/>
<circle cx="218.85" cy="136.79" r="1.40" fill="#fff" stroke="#3238cc" stroke-width="0.7"/>
<circle cx="229.30" cy="122.13" r="1.40" fill="#fff" stroke="#3238cc" stroke-width="0.7"/>
<circle cx="239.75" cy="113.66" r="1.40" fill="#fff" stroke="#3238cc" stroke-width="0.7"/>
<line x1="197.95" y1="145.86" x2="197.95" y2="147.86" stroke="#dd4040" stroke-width="0.75"/>
<line x1="196.95" y1="145.86" x2="198.95" y2="145.86" stroke="#dd4040" stroke-width="0.6"/>
<line x1="196.95" y1="147.86" x2="198.95" y2="147.86" stroke="#dd4040" stroke-width="0.6"/>
<line x1="208.40" y1="136.16" x2="208.40" y2="140.16" stroke="#dd4040" stroke-width="0.75"/>
<line x1="207.40" y1="136.16" x2="209.40" y2="136.16" stroke="#dd4040" stroke-width="0.6"/>
<line x1="207.40" y1="140.16" x2="209.40" y2="140.16" stroke="#dd4040" stroke-width="0.6"/>
<line x1="218.85" y1="124.17" x2="218.85" y2="130.17" stroke="#dd4040" stroke-width="0.75"/>
<line x1="217.85" y1="124.17" x2="219.85" y2="124.17" stroke="#dd4040" stroke-width="0.6"/>
<line x1="217.85" y1="130.17" x2="219.85" y2="130.17" stroke="#dd4040" stroke-width="0.6"/>
<line x1="229.30" y1="103.99" x2="229.30" y2="115.99" stroke="#dd4040" stroke-width="0.75"/>
<line x1="228.30" y1="103.99" x2="230.30" y2="103.99" stroke="#dd4040" stroke-width="0.6"/>
<line x1="228.30" y1="115.99" x2="230.30" y2="115.99" stroke="#dd4040" stroke-width="0.6"/>
<line x1="239.75" y1="91.19" x2="239.75" y2="108.19" stroke="#dd4040" stroke-width="0.75"/>
<line x1="238.75" y1="91.19" x2="240.75" y2="91.19" stroke="#dd4040" stroke-width="0.6"/>
<line x1="238.75" y1="108.19" x2="240.75" y2="108.19" stroke="#dd4040" stroke-width="0.6"/>
<polyline points="166.60,150.75 177.05,148.92 187.50,148.92 197.95,146.86 208.40,138.16 218.85,127.17 229.30,109.99 239.75,99.69" fill="none" stroke="#dd4040" stroke-width="0.9" stroke-linejoin="round"/>
<circle cx="177.05" cy="148.92" r="1.40" fill="#fff" stroke="#dd4040" stroke-width="0.7"/>
<circle cx="187.50" cy="148.92" r="1.40" fill="#fff" stroke="#dd4040" stroke-width="0.7"/>
<circle cx="197.95" cy="146.86" r="1.40" fill="#fff" stroke="#dd4040" stroke-width="0.7"/>
<circle cx="208.40" cy="138.16" r="1.40" fill="#fff" stroke="#dd4040" stroke-width="0.7"/>
<circle cx="218.85" cy="127.17" r="1.40" fill="#fff" stroke="#dd4040" stroke-width="0.7"/>
<circle cx="229.30" cy="109.99" r="1.40" fill="#fff" stroke="#dd4040" stroke-width="0.7"/>
<circle cx="239.75" cy="99.69" r="1.40" fill="#fff" stroke="#dd4040" stroke-width="0.7"/>
<line x1="187.50" y1="146.32" x2="187.50" y2="148.32" stroke="#000" stroke-width="0.75"/>
<line x1="186.50" y1="146.32" x2="188.50" y2="146.32" stroke="#000" stroke-width="0.6"/>
<line x1="186.50" y1="148.32" x2="188.50" y2="148.32" stroke="#000" stroke-width="0.6"/>
<line x1="197.95" y1="135.24" x2="197.95" y2="139.24" stroke="#000" stroke-width="0.75"/>
<line x1="196.95" y1="135.24" x2="198.95" y2="135.24" stroke="#000" stroke-width="0.6"/>
<line x1="196.95" y1="139.24" x2="198.95" y2="139.24" stroke="#000" stroke-width="0.6"/>
<line x1="208.40" y1="106.99" x2="208.40" y2="112.99" stroke="#000" stroke-width="0.75"/>
<line x1="207.40" y1="106.99" x2="209.40" y2="106.99" stroke="#000" stroke-width="0.6"/>
<line x1="207.40" y1="112.99" x2="209.40" y2="112.99" stroke="#000" stroke-width="0.6"/>
<line x1="218.85" y1="84.47" x2="218.85" y2="92.47" stroke="#000" stroke-width="0.75"/>
<line x1="217.85" y1="84.47" x2="219.85" y2="84.47" stroke="#000" stroke-width="0.6"/>
<line x1="217.85" y1="92.47" x2="219.85" y2="92.47" stroke="#000" stroke-width="0.6"/>
<line x1="229.30" y1="70.16" x2="229.30" y2="86.16" stroke="#000" stroke-width="0.75"/>
<line x1="228.30" y1="70.16" x2="230.30" y2="70.16" stroke="#000" stroke-width="0.6"/>
<line x1="228.30" y1="86.16" x2="230.30" y2="86.16" stroke="#000" stroke-width="0.6"/>
<line x1="239.75" y1="54.95" x2="239.75" y2="77.55" stroke="#000" stroke-width="0.75"/>
<line x1="238.75" y1="54.95" x2="240.75" y2="54.95" stroke="#000" stroke-width="0.6"/>
<line x1="238.75" y1="77.55" x2="240.75" y2="77.55" stroke="#000" stroke-width="0.6"/>
<polyline points="166.60,150.75 177.05,148.47 187.50,147.32 197.95,137.24 208.40,109.99 218.85,88.47 229.30,78.16 239.75,66.25" fill="none" stroke="#000" stroke-width="0.9" stroke-linejoin="round"/>
<rect x="175.76" y="147.18" width="2.58" height="2.58" fill="#000"/>
<rect x="186.21" y="146.03" width="2.58" height="2.58" fill="#000"/>
<rect x="196.66" y="135.96" width="2.58" height="2.58" fill="#000"/>
<rect x="207.11" y="108.70" width="2.58" height="2.58" fill="#000"/>
<rect x="217.56" y="87.18" width="2.58" height="2.58" fill="#000"/>
<rect x="228.01" y="76.87" width="2.58" height="2.58" fill="#000"/>
<rect x="238.46" y="64.97" width="2.58" height="2.58" fill="#000"/>
<line x1="171.20" y1="43.70" x2="181.20" y2="43.70" stroke="#000" stroke-width="0.7"/>
<rect x="174.88" y="42.38" width="2.64" height="2.64" fill="#000"/>
<text x="183.20" y="45.35" font-size="4.7px" font-weight="bold" font-style="normal" text-anchor="start" fill="#000" stroke="#000" stroke-width="0.3">Vehicle</text>
<line x1="171.20" y1="49.63" x2="181.20" y2="49.63" stroke="#dd4040" stroke-width="0.7"/>
<circle cx="176.20" cy="49.63" r="1.44" fill="#fff" stroke="#dd4040" stroke-width="0.7"/>
<text x="183.20" y="51.28" font-size="4.7px" font-weight="bold" font-style="normal" text-anchor="start" fill="#000" stroke="#000" stroke-width="0.3">Panitumumab</text>
<line x1="171.20" y1="55.56" x2="181.20" y2="55.56" stroke="#2fc82f" stroke-width="0.7"/>
<path d="M176.20 53.84 L177.81 56.83 L174.59 56.83 Z" fill="#2fc82f"/>
<text x="183.20" y="57.21" font-size="4.7px" font-weight="bold" font-style="normal" text-anchor="start" fill="#000" stroke="#000" stroke-width="0.3">Tarextumab</text>
<line x1="171.20" y1="61.49" x2="181.20" y2="61.49" stroke="#3238cc" stroke-width="0.7"/>
<circle cx="176.20" cy="61.49" r="1.44" fill="#fff" stroke="#3238cc" stroke-width="0.7"/>
<text x="183.20" y="63.14" font-size="4.7px" font-weight="bold" font-style="normal" text-anchor="start" fill="#000" stroke="#000" stroke-width="0.3">MEDH7945A</text>
<line x1="171.20" y1="67.42" x2="181.20" y2="67.42" stroke="#19c4e0" stroke-width="0.7"/>
<path d="M176.20 65.58 L177.81 67.42 L176.20 69.26 L174.59 67.42 Z" fill="#19c4e0"/>
<text x="183.20" y="69.07" font-size="4.7px" font-weight="bold" font-style="normal" text-anchor="start" fill="#000" stroke="#000" stroke-width="0.3">P+T</text>
<line x1="171.20" y1="73.35" x2="181.20" y2="73.35" stroke="#e81ee8" stroke-width="0.7"/>
<circle cx="176.20" cy="73.35" r="1.44" fill="#e81ee8"/>
<text x="183.20" y="75.00" font-size="4.7px" font-weight="bold" font-style="normal" text-anchor="start" fill="#000" stroke="#000" stroke-width="0.3">PTG12</text>
<line x1="171.20" y1="79.28" x2="181.20" y2="79.28" stroke="#dccbe8" stroke-width="0.7"/>
<text x="183.20" y="80.93" font-size="4.7px" font-weight="bold" font-style="normal" text-anchor="start" fill="#000" stroke="#000" stroke-width="0.3">MTJ16</text>
<text x="245.80" y="117.30" font-size="8.6px" font-weight="bold" font-style="normal" text-anchor="middle" fill="#000" stroke="#000" stroke-width="0.55">*</text>
<text x="245.80" y="124.80" font-size="8.6px" font-weight="bold" font-style="normal" text-anchor="middle" fill="#000" stroke="#000" stroke-width="0.55">*</text>
<text x="245.80" y="131.50" font-size="8.6px" font-weight="bold" font-style="normal" text-anchor="middle" fill="#000" stroke="#000" stroke-width="0.55">*</text>
<text x="245.80" y="145.10" font-size="8.6px" font-weight="bold" font-style="normal" text-anchor="middle" fill="#000" stroke="#000" stroke-width="0.55">*</text>
<text x="248.60" y="142.50" font-size="5.2px" font-weight="bold" font-style="italic" text-anchor="start" fill="#000" stroke="#000" stroke-width="0.3">#</text>
<text x="245.80" y="151.90" font-size="8.6px" font-weight="bold" font-style="normal" text-anchor="middle" fill="#000" stroke="#000" stroke-width="0.55">*</text>
<text x="248.60" y="149.30" font-size="5.2px" font-weight="bold" font-style="italic" text-anchor="start" fill="#000" stroke="#000" stroke-width="0.3">#</text>
<line x1="291.10" y1="33.80" x2="291.10" y2="149.65" stroke="#000" stroke-width="0.8"/>
<line x1="290.70" y1="149.30" x2="367.80" y2="149.30" stroke="#000" stroke-width="0.8"/>
<line x1="288.80" y1="149.30" x2="291.10" y2="149.30" stroke="#000" stroke-width="0.7"/>
<text x="287.10" y="150.90" font-size="4.4px" font-weight="bold" font-style="normal" text-anchor="end" fill="#000" stroke="#000" stroke-width="0.3">0</text>
<line x1="288.80" y1="130.10" x2="291.10" y2="130.10" stroke="#000" stroke-width="0.7"/>
<text x="287.10" y="131.70" font-size="4.4px" font-weight="bold" font-style="normal" text-anchor="end" fill="#000" stroke="#000" stroke-width="0.3">100</text>
<line x1="288.80" y1="110.90" x2="291.10" y2="110.90" stroke="#000" stroke-width="0.7"/>
<text x="287.10" y="112.50" font-size="4.4px" font-weight="bold" font-style="normal" text-anchor="end" fill="#000" stroke="#000" stroke-width="0.3">200</text>
<line x1="288.80" y1="91.70" x2="291.10" y2="91.70" stroke="#000" stroke-width="0.7"/>
<text x="287.10" y="93.30" font-size="4.4px" font-weight="bold" font-style="normal" text-anchor="end" fill="#000" stroke="#000" stroke-width="0.3">300</text>
<line x1="288.80" y1="72.50" x2="291.10" y2="72.50" stroke="#000" stroke-width="0.7"/>
<text x="287.10" y="74.10" font-size="4.4px" font-weight="bold" font-style="normal" text-anchor="end" fill="#000" stroke="#000" stroke-width="0.3">400</text>
<line x1="288.80" y1="53.30" x2="291.10" y2="53.30" stroke="#000" stroke-width="0.7"/>
<text x="287.10" y="54.90" font-size="4.4px" font-weight="bold" font-style="normal" text-anchor="end" fill="#000" stroke="#000" stroke-width="0.3">500</text>
<line x1="288.80" y1="34.10" x2="291.10" y2="34.10" stroke="#000" stroke-width="0.7"/>
<text x="287.10" y="35.70" font-size="4.4px" font-weight="bold" font-style="normal" text-anchor="end" fill="#000" stroke="#000" stroke-width="0.3">600</text>
<line x1="291.10" y1="149.30" x2="291.10" y2="151.10" stroke="#000" stroke-width="0.7"/>
<text x="291.10" y="156.70" font-size="4.4px" font-weight="bold" font-style="normal" text-anchor="middle" fill="#000" stroke="#000" stroke-width="0.3">20</text>
<line x1="301.60" y1="149.30" x2="301.60" y2="151.10" stroke="#000" stroke-width="0.7"/>
<text x="301.60" y="156.70" font-size="4.4px" font-weight="bold" font-style="normal" text-anchor="middle" fill="#000" stroke="#000" stroke-width="0.3">25</text>
<line x1="312.10" y1="149.30" x2="312.10" y2="151.10" stroke="#000" stroke-width="0.7"/>
<text x="312.10" y="156.70" font-size="4.4px" font-weight="bold" font-style="normal" text-anchor="middle" fill="#000" stroke="#000" stroke-width="0.3">30</text>
<line x1="322.60" y1="149.30" x2="322.60" y2="151.10" stroke="#000" stroke-width="0.7"/>
<text x="322.60" y="156.70" font-size="4.4px" font-weight="bold" font-style="normal" text-anchor="middle" fill="#000" stroke="#000" stroke-width="0.3">35</text>
<line x1="333.10" y1="149.30" x2="333.10" y2="151.10" stroke="#000" stroke-width="0.7"/>
<text x="333.10" y="156.70" font-size="4.4px" font-weight="bold" font-style="normal" text-anchor="middle" fill="#000" stroke="#000" stroke-width="0.3">40</text>
<line x1="343.60" y1="149.30" x2="343.60" y2="151.10" stroke="#000" stroke-width="0.7"/>
<text x="343.60" y="156.70" font-size="4.4px" font-weight="bold" font-style="normal" text-anchor="middle" fill="#000" stroke="#000" stroke-width="0.3">45</text>
<line x1="354.10" y1="149.30" x2="354.10" y2="151.10" stroke="#000" stroke-width="0.7"/>
<text x="354.10" y="156.70" font-size="4.4px" font-weight="bold" font-style="normal" text-anchor="middle" fill="#000" stroke="#000" stroke-width="0.3">50</text>
<line x1="364.60" y1="149.30" x2="364.60" y2="151.10" stroke="#000" stroke-width="0.7"/>
<text x="364.60" y="156.70" font-size="4.4px" font-weight="bold" font-style="normal" text-anchor="middle" fill="#000" stroke="#000" stroke-width="0.3">55</text>
<text x="291.20" y="28.10" font-size="5.6px" font-weight="bold" font-style="normal" text-anchor="start" fill="#000" stroke="#000" stroke-width="0.3">BN41</text>
<text x="331.00" y="166.20" font-size="6.0px" font-weight="bold" font-style="normal" text-anchor="middle" fill="#000" stroke="#000" stroke-width="0.3">Days after cell injection</text>
<text x="266.30" y="100.20" font-size="5.95px" font-weight="bold" font-style="normal" text-anchor="middle" fill="#000" transform="rotate(-90 266.30 100.20)" stroke="#000" stroke-width="0.3">Tumor volume (mm<tspan font-size="3.6px" dy="-1.9">3</tspan><tspan dy="1.9">)</tspan></text>
<text x="273.60" y="99.90" font-size="6.0px" font-weight="bold" font-style="normal" text-anchor="middle" fill="#000" transform="rotate(-90 273.60 99.90)" textLength="23" lengthAdjust="spacing" stroke="#000" stroke-width="0.3">+/- SEM</text>
<polyline points="291.10,148.72 301.60,148.15 312.10,147.76 322.60,147.38 333.10,146.80 343.60,145.46 354.10,142.96 364.60,136.63" fill="none" stroke="#dccbe8" stroke-width="0.9" stroke-linejoin="round"/>
<polyline points="291.10,148.92 301.60,148.72 312.10,148.72 322.60,148.72 333.10,148.53 343.60,147.96 354.10,145.46 364.60,143.73" fill="none" stroke="#e81ee8" stroke-width="0.9" stroke-linejoin="round"/>
<circle cx="301.60" cy="148.72" r="1.40" fill="#e81ee8"/>
<circle cx="312.10" cy="148.72" r="1.40" fill="#e81ee8"/>
<circle cx="322.60" cy="148.72" r="1.40" fill="#e81ee8"/>
<circle cx="333.10" cy="148.53" r="1.40" fill="#e81ee8"/>
<circle cx="343.60" cy="147.96" r="1.40" fill="#e81ee8"/>
<circle cx="354.10" cy="145.46" r="1.40" fill="#e81ee8"/>
<circle cx="364.60" cy="143.73" r="1.40" fill="#e81ee8"/>
<line x1="333.10" y1="139.74" x2="333.10" y2="142.74" stroke="#2fc82f" stroke-width="0.75"/>
<line x1="332.10" y1="139.74" x2="334.10" y2="139.74" stroke="#2fc82f" stroke-width="0.6"/>
<line x1="332.10" y1="142.74" x2="334.10" y2="142.74" stroke="#2fc82f" stroke-width="0.6"/>
<line x1="343.60" y1="136.74" x2="343.60" y2="140.74" stroke="#2fc82f" stroke-width="0.75"/>
<line x1="342.60" y1="136.74" x2="344.60" y2="136.74" stroke="#2fc82f" stroke-width="0.6"/>
<line x1="342.60" y1="140.74" x2="344.60" y2="140.74" stroke="#2fc82f" stroke-width="0.6"/>
<line x1="354.10" y1="124.99" x2="354.10" y2="130.99" stroke="#2fc82f" stroke-width="0.75"/>
<line x1="353.10" y1="124.99" x2="355.10" y2="124.99" stroke="#2fc82f" stroke-width="0.6"/>
<line x1="353.10" y1="130.99" x2="355.10" y2="130.99" stroke="#2fc82f" stroke-width="0.6"/>
<line x1="364.60" y1="110.32" x2="364.60" y2="120.32" stroke="#2fc82f" stroke-width="0.75"/>
<line x1="363.60" y1="110.32" x2="365.60" y2="110.32" stroke="#2fc82f" stroke-width="0.6"/>
<line x1="363.60" y1="120.32" x2="365.60" y2="120.32" stroke="#2fc82f" stroke-width="0.6"/>
<polyline points="291.10,148.72 301.60,146.42 312.10,144.31 322.60,144.31 333.10,141.24 343.60,138.74 354.10,127.99 364.60,115.32" fill="none" stroke="#2fc82f" stroke-width="0.9" stroke-linejoin="round"/>
<path d="M301.60 144.74 L303.17 147.65 L300.03 147.65 Z" fill="#2fc82f"/>
<path d="M312.10 142.63 L313.67 145.54 L310.53 145.54 Z" fill="#2fc82f"/>
<path d="M322.60 142.63 L324.17 145.54 L321.03 145.54 Z" fill="#2fc82f"/>
<path d="M333.10 139.56 L334.67 142.47 L331.53 142.47 Z" fill="#2fc82f"/>
<path d="M343.60 137.06 L345.17 139.97 L342.03 139.97 Z" fill="#2fc82f"/>
<path d="M354.10 126.31 L355.67 129.22 L352.53 129.22 Z" fill="#2fc82f"/>
<path d="M364.60 113.64 L366.17 116.55 L363.03 116.55 Z" fill="#2fc82f"/>
<line x1="333.10" y1="140.70" x2="333.10" y2="143.70" stroke="#19c4e0" stroke-width="0.75"/>
<line x1="332.10" y1="140.70" x2="334.10" y2="140.70" stroke="#19c4e0" stroke-width="0.6"/>
<line x1="332.10" y1="143.70" x2="334.10" y2="143.70" stroke="#19c4e0" stroke-width="0.6"/>
<line x1="343.60" y1="137.70" x2="343.60" y2="141.70" stroke="#19c4e0" stroke-width="0.75"/>
<line x1="342.60" y1="137.70" x2="344.60" y2="137.70" stroke="#19c4e0" stroke-width="0.6"/>
<line x1="342.60" y1="141.70" x2="344.60" y2="141.70" stroke="#19c4e0" stroke-width="0.6"/>
<line x1="354.10" y1="127.48" x2="354.10" y2="133.48" stroke="#19c4e0" stroke-width="0.75"/>
<line x1="353.10" y1="127.48" x2="355.10" y2="127.48" stroke="#19c4e0" stroke-width="0.6"/>
<line x1="353.10" y1="133.48" x2="355.10" y2="133.48" stroke="#19c4e0" stroke-width="0.6"/>
<line x1="364.60" y1="119.00" x2="364.60" y2="127.00" stroke="#19c4e0" stroke-width="0.75"/>
<line x1="363.60" y1="119.00" x2="365.60" y2="119.00" stroke="#19c4e0" stroke-width="0.6"/>
<line x1="363.60" y1="127.00" x2="365.60" y2="127.00" stroke="#19c4e0" stroke-width="0.6"/>
<polyline points="291.10,148.72 301.60,147.38 312.10,146.42 322.60,145.46 333.10,142.20 343.60,139.70 354.10,130.48 364.60,123.00" fill="none" stroke="#19c4e0" stroke-width="0.9" stroke-linejoin="round"/>
<path d="M301.60 145.59 L303.17 147.38 L301.60 149.17 L300.03 147.38 Z" fill="#19c4e0"/>
<path d="M312.10 144.63 L313.67 146.42 L312.10 148.21 L310.53 146.42 Z" fill="#19c4e0"/>
<path d="M322.60 143.67 L324.17 145.46 L322.60 147.25 L321.03 145.46 Z" fill="#19c4e0"/>
<path d="M333.10 140.40 L334.67 142.20 L333.10 143.99 L331.53 142.20 Z" fill="#19c4e0"/>
<path d="M343.60 137.91 L345.17 139.70 L343.60 141.49 L342.03 139.70 Z" fill="#19c4e0"/>
<path d="M354.10 128.69 L355.67 130.48 L354.10 132.28 L352.53 130.48 Z" fill="#19c4e0"/>
<path d="M364.60 121.20 L366.17 123.00 L364.60 124.79 L363.03 123.00 Z" fill="#19c4e0"/>
<line x1="333.10" y1="138.97" x2="333.10" y2="141.97" stroke="#3238cc" stroke-width="0.75"/>
<line x1="332.10" y1="138.97" x2="334.10" y2="138.97" stroke="#3238cc" stroke-width="0.6"/>
<line x1="332.10" y1="141.97" x2="334.10" y2="141.97" stroke="#3238cc" stroke-width="0.6"/>
<line x1="343.60" y1="135.20" x2="343.60" y2="139.20" stroke="#3238cc" stroke-width="0.75"/>
<line x1="342.60" y1="135.20" x2="344.60" y2="135.20" stroke="#3238cc" stroke-width="0.6"/>
<line x1="342.60" y1="139.20" x2="344.60" y2="139.20" stroke="#3238cc" stroke-width="0.6"/>
<line x1="354.10" y1="119.57" x2="354.10" y2="127.57" stroke="#3238cc" stroke-width="0.75"/>
<line x1="353.10" y1="119.57" x2="355.10" y2="119.57" stroke="#3238cc" stroke-width="0.6"/>
<line x1="353.10" y1="127.57" x2="355.10" y2="127.57" stroke="#3238cc" stroke-width="0.6"/>
<line x1="364.60" y1="104.90" x2="364.60" y2="116.90" stroke="#3238cc" stroke-width="0.75"/>
<line x1="363.60" y1="104.90" x2="365.60" y2="104.90" stroke="#3238cc" stroke-width="0.6"/>
<line x1="363.60" y1="116.90" x2="365.60" y2="116.90" stroke="#3238cc" stroke-width="0.6"/>
<polyline points="291.10,148.72 301.60,147.38 312.10,146.42 322.60,145.08 333.10,140.47 343.60,137.20 354.10,123.57 364.60,110.90" fill="none" stroke="#3238cc" stroke-width="0.9" stroke-linejoin="round"/>
<circle cx="301.60" cy="147.38" r="1.40" fill="#fff" stroke="#3238cc" stroke-width="0.7"/>
<circle cx="312.10" cy="146.42" r="1.40" fill="#fff" stroke="#3238cc" stroke-width="0.7"/>
<circle cx="322.60" cy="145.08" r="1.40" fill="#fff" stroke="#3238cc" stroke-width="0.7"/>
<circle cx="333.10" cy="140.47" r="1.40" fill="#fff" stroke="#3238cc" stroke-width="0.7"/>
<circle cx="343.60" cy="137.20" r="1.40" fill="#fff" stroke="#3238cc" stroke-width="0.7"/>
<circle cx="354.10" cy="123.57" r="1.40" fill="#fff" stroke="#3238cc" stroke-width="0.7"/>
<circle cx="364.60" cy="110.90" r="1.40" fill="#fff" stroke="#3238cc" stroke-width="0.7"/>
<line x1="322.60" y1="141.20" x2="322.60" y2="143.20" stroke="#dd4040" stroke-width="0.75"/>
<line x1="321.60" y1="141.20" x2="323.60" y2="141.20" stroke="#dd4040" stroke-width="0.6"/>
<line x1="321.60" y1="143.20" x2="323.60" y2="143.20" stroke="#dd4040" stroke-width="0.6"/>
<line x1="333.10" y1="137.70" x2="333.10" y2="141.70" stroke="#dd4040" stroke-width="0.75"/>
<line x1="332.10" y1="137.70" x2="334.10" y2="137.70" stroke="#dd4040" stroke-width="0.6"/>
<line x1="332.10" y1="141.70" x2="334.10" y2="141.70" stroke="#dd4040" stroke-width="0.6"/>
<line x1="343.60" y1="124.76" x2="343.60" y2="132.76" stroke="#dd4040" stroke-width="0.75"/>
<line x1="342.60" y1="124.76" x2="344.60" y2="124.76" stroke="#dd4040" stroke-width="0.6"/>
<line x1="342.60" y1="132.76" x2="344.60" y2="132.76" stroke="#dd4040" stroke-width="0.6"/>
<line x1="354.10" y1="109.32" x2="354.10" y2="121.32" stroke="#dd4040" stroke-width="0.75"/>
<line x1="353.10" y1="109.32" x2="355.10" y2="109.32" stroke="#dd4040" stroke-width="0.6"/>
<line x1="353.10" y1="121.32" x2="355.10" y2="121.32" stroke="#dd4040" stroke-width="0.6"/>
<line x1="364.60" y1="91.07" x2="364.60" y2="113.07" stroke="#dd4040" stroke-width="0.75"/>
<line x1="363.60" y1="91.07" x2="365.60" y2="91.07" stroke="#dd4040" stroke-width="0.6"/>
<line x1="363.60" y1="113.07" x2="365.60" y2="113.07" stroke="#dd4040" stroke-width="0.6"/>
<polyline points="291.10,148.72 301.60,145.08 312.10,142.20 322.60,142.20 333.10,139.70 343.60,128.76 354.10,115.32 364.60,102.07" fill="none" stroke="#dd4040" stroke-width="0.9" stroke-linejoin="round"/>
<circle cx="301.60" cy="145.08" r="1.40" fill="#fff" stroke="#dd4040" stroke-width="0.7"/>
<circle cx="312.10" cy="142.20" r="1.40" fill="#fff" stroke="#dd4040" stroke-width="0.7"/>
<circle cx="322.60" cy="142.20" r="1.40" fill="#fff" stroke="#dd4040" stroke-width="0.7"/>
<circle cx="333.10" cy="139.70" r="1.40" fill="#fff" stroke="#dd4040" stroke-width="0.7"/>
<circle cx="343.60" cy="128.76" r="1.40" fill="#fff" stroke="#dd4040" stroke-width="0.7"/>
<circle cx="354.10" cy="115.32" r="1.40" fill="#fff" stroke="#dd4040" stroke-width="0.7"/>
<circle cx="364.60" cy="102.07" r="1.40" fill="#fff" stroke="#dd4040" stroke-width="0.7"/>
<line x1="301.60" y1="141.20" x2="301.60" y2="143.20" stroke="#000" stroke-width="0.75"/>
<line x1="300.60" y1="141.20" x2="302.60" y2="141.20" stroke="#000" stroke-width="0.6"/>
<line x1="300.60" y1="143.20" x2="302.60" y2="143.20" stroke="#000" stroke-width="0.6"/>
<line x1="312.10" y1="138.70" x2="312.10" y2="140.70" stroke="#000" stroke-width="0.75"/>
<line x1="311.10" y1="138.70" x2="313.10" y2="138.70" stroke="#000" stroke-width="0.6"/>
<line x1="311.10" y1="140.70" x2="313.10" y2="140.70" stroke="#000" stroke-width="0.6"/>
<line x1="322.60" y1="130.90" x2="322.60" y2="133.90" stroke="#000" stroke-width="0.75"/>
<line x1="321.60" y1="130.90" x2="323.60" y2="130.90" stroke="#000" stroke-width="0.6"/>
<line x1="321.60" y1="133.90" x2="323.60" y2="133.90" stroke="#000" stroke-width="0.6"/>
<line x1="333.10" y1="119.14" x2="333.10" y2="134.14" stroke="#000" stroke-width="0.75"/>
<line x1="332.10" y1="119.14" x2="334.10" y2="119.14" stroke="#000" stroke-width="0.6"/>
<line x1="332.10" y1="134.14" x2="334.10" y2="134.14" stroke="#000" stroke-width="0.6"/>
<line x1="343.60" y1="108.39" x2="343.60" y2="128.39" stroke="#000" stroke-width="0.75"/>
<line x1="342.60" y1="108.39" x2="344.60" y2="108.39" stroke="#000" stroke-width="0.6"/>
<line x1="342.60" y1="128.39" x2="344.60" y2="128.39" stroke="#000" stroke-width="0.6"/>
<line x1="354.10" y1="79.79" x2="354.10" y2="89.79" stroke="#000" stroke-width="0.75"/>
<line x1="353.10" y1="79.79" x2="355.10" y2="79.79" stroke="#000" stroke-width="0.6"/>
<line x1="353.10" y1="89.79" x2="355.10" y2="89.79" stroke="#000" stroke-width="0.6"/>
<line x1="364.60" y1="52.82" x2="364.60" y2="81.82" stroke="#000" stroke-width="0.75"/>
<line x1="363.60" y1="52.82" x2="365.60" y2="52.82" stroke="#000" stroke-width="0.6"/>
<line x1="363.60" y1="81.82" x2="365.60" y2="81.82" stroke="#000" stroke-width="0.6"/>
<polyline points="291.10,148.72 301.60,142.20 312.10,139.70 322.60,132.40 333.10,126.64 343.60,118.39 354.10,84.79 364.60,67.32" fill="none" stroke="#000" stroke-width="0.9" stroke-linejoin="round"/>
<circle cx="301.60" cy="142.20" r="1.51" fill="#000"/>
<circle cx="312.10" cy="139.70" r="1.51" fill="#000"/>
<circle cx="322.60" cy="132.40" r="1.51" fill="#000"/>
<circle cx="333.10" cy="126.64" r="1.51" fill="#000"/>
<circle cx="343.60" cy="118.39" r="1.51" fill="#000"/>
<circle cx="354.10" cy="84.79" r="1.51" fill="#000"/>
<circle cx="364.60" cy="67.32" r="1.51" fill="#000"/>
<line x1="296.10" y1="41.20" x2="306.10" y2="41.20" stroke="#000" stroke-width="0.7"/>
<circle cx="301.10" cy="41.20" r="1.55" fill="#000"/>
<text x="308.10" y="42.85" font-size="4.7px" font-weight="bold" font-style="normal" text-anchor="start" fill="#000" stroke="#000" stroke-width="0.3">Vehicle</text>
<line x1="296.10" y1="47.15" x2="306.10" y2="47.15" stroke="#dd4040" stroke-width="0.7"/>
<circle cx="301.10" cy="47.15" r="1.44" fill="#fff" stroke="#dd4040" stroke-width="0.7"/>
<text x="308.10" y="48.80" font-size="4.7px" font-weight="bold" font-style="normal" text-anchor="start" fill="#000" stroke="#000" stroke-width="0.3">Panitumumab</text>
<line x1="296.10" y1="53.10" x2="306.10" y2="53.10" stroke="#2fc82f" stroke-width="0.7"/>
<path d="M301.10 51.38 L302.71 54.37 L299.49 54.37 Z" fill="#2fc82f"/>
<text x="308.10" y="54.75" font-size="4.7px" font-weight="bold" font-style="normal" text-anchor="start" fill="#000" stroke="#000" stroke-width="0.3">Tarextumab</text>
<line x1="296.10" y1="59.05" x2="306.10" y2="59.05" stroke="#3238cc" stroke-width="0.7"/>
<circle cx="301.10" cy="59.05" r="1.44" fill="#fff" stroke="#3238cc" stroke-width="0.7"/>
<text x="308.10" y="60.70" font-size="4.7px" font-weight="bold" font-style="normal" text-anchor="start" fill="#000" stroke="#000" stroke-width="0.3">MEDH7945A</text>
<line x1="296.10" y1="65.00" x2="306.10" y2="65.00" stroke="#19c4e0" stroke-width="0.7"/>
<path d="M301.10 63.16 L302.71 65.00 L301.10 66.84 L299.49 65.00 Z" fill="#19c4e0"/>
<text x="308.10" y="66.65" font-size="4.7px" font-weight="bold" font-style="normal" text-anchor="start" fill="#000" stroke="#000" stroke-width="0.3">P+T</text>
<line x1="296.10" y1="70.95" x2="306.10" y2="70.95" stroke="#e81ee8" stroke-width="0.7"/>
<circle cx="301.10" cy="70.95" r="1.44" fill="#e81ee8"/>
<text x="308.10" y="72.60" font-size="4.7px" font-weight="bold" font-style="normal" text-anchor="start" fill="#000" stroke="#000" stroke-width="0.3">PTG12</text>
<line x1="296.10" y1="76.90" x2="306.10" y2="76.90" stroke="#dccbe8" stroke-width="0.7"/>
<text x="308.10" y="78.55" font-size="4.7px" font-weight="bold" font-style="normal" text-anchor="start" fill="#000" stroke="#000" stroke-width="0.3">MTJ16</text>
<text x="370.40" y="117.40" font-size="8.6px" font-weight="bold" font-style="normal" text-anchor="middle" fill="#000" stroke="#000" stroke-width="0.55">*</text>
<text x="370.40" y="122.50" font-size="8.6px" font-weight="bold" font-style="normal" text-anchor="middle" fill="#000" stroke="#000" stroke-width="0.55">*</text>
<text x="370.40" y="127.50" font-size="8.6px" font-weight="bold" font-style="normal" text-anchor="middle" fill="#000" stroke="#000" stroke-width="0.55">*</text>
<text x="370.40" y="141.30" font-size="8.6px" font-weight="bold" font-style="normal" text-anchor="middle" fill="#000" stroke="#000" stroke-width="0.55">*</text>
<text x="373.20" y="138.70" font-size="5.2px" font-weight="bold" font-style="italic" text-anchor="start" fill="#000" stroke="#000" stroke-width="0.3">#</text>
<text x="370.40" y="148.30" font-size="8.6px" font-weight="bold" font-style="normal" text-anchor="middle" fill="#000" stroke="#000" stroke-width="0.55">*</text>
<text x="373.20" y="145.70" font-size="5.2px" font-weight="bold" font-style="italic" text-anchor="start" fill="#000" stroke="#000" stroke-width="0.3">#</text>
<line x1="417.70" y1="31.70" x2="417.70" y2="146.85" stroke="#000" stroke-width="0.8"/>
<line x1="417.30" y1="146.50" x2="494.75" y2="146.50" stroke="#000" stroke-width="0.8"/>
<line x1="415.40" y1="146.50" x2="417.70" y2="146.50" stroke="#000" stroke-width="0.7"/>
<text x="413.70" y="148.10" font-size="4.4px" font-weight="bold" font-style="normal" text-anchor="end" fill="#000" stroke="#000" stroke-width="0.3">0</text>
<line x1="415.40" y1="123.60" x2="417.70" y2="123.60" stroke="#000" stroke-width="0.7"/>
<text x="413.70" y="125.20" font-size="4.4px" font-weight="bold" font-style="normal" text-anchor="end" fill="#000" stroke="#000" stroke-width="0.3">100</text>
<line x1="415.40" y1="100.70" x2="417.70" y2="100.70" stroke="#000" stroke-width="0.7"/>
<text x="413.70" y="102.30" font-size="4.4px" font-weight="bold" font-style="normal" text-anchor="end" fill="#000" stroke="#000" stroke-width="0.3">200</text>
<line x1="415.40" y1="77.80" x2="417.70" y2="77.80" stroke="#000" stroke-width="0.7"/>
<text x="413.70" y="79.40" font-size="4.4px" font-weight="bold" font-style="normal" text-anchor="end" fill="#000" stroke="#000" stroke-width="0.3">300</text>
<line x1="415.40" y1="54.90" x2="417.70" y2="54.90" stroke="#000" stroke-width="0.7"/>
<text x="413.70" y="56.50" font-size="4.4px" font-weight="bold" font-style="normal" text-anchor="end" fill="#000" stroke="#000" stroke-width="0.3">400</text>
<line x1="415.40" y1="32.00" x2="417.70" y2="32.00" stroke="#000" stroke-width="0.7"/>
<text x="413.70" y="33.60" font-size="4.4px" font-weight="bold" font-style="normal" text-anchor="end" fill="#000" stroke="#000" stroke-width="0.3">500</text>
<line x1="417.70" y1="146.50" x2="417.70" y2="148.30" stroke="#000" stroke-width="0.7"/>
<text x="417.70" y="154.40" font-size="4.4px" font-weight="bold" font-style="normal" text-anchor="middle" fill="#000" stroke="#000" stroke-width="0.3">20</text>
<line x1="428.25" y1="146.50" x2="428.25" y2="148.30" stroke="#000" stroke-width="0.7"/>
<text x="428.25" y="154.40" font-size="4.4px" font-weight="bold" font-style="normal" text-anchor="middle" fill="#000" stroke="#000" stroke-width="0.3">25</text>
<line x1="438.80" y1="146.50" x2="438.80" y2="148.30" stroke="#000" stroke-width="0.7"/>
<text x="438.80" y="154.40" font-size="4.4px" font-weight="bold" font-style="normal" text-anchor="middle" fill="#000" stroke="#000" stroke-width="0.3">30</text>
<line x1="449.35" y1="146.50" x2="449.35" y2="148.30" stroke="#000" stroke-width="0.7"/>
<text x="449.35" y="154.40" font-size="4.4px" font-weight="bold" font-style="normal" text-anchor="middle" fill="#000" stroke="#000" stroke-width="0.3">35</text>
<line x1="459.90" y1="146.50" x2="459.90" y2="148.30" stroke="#000" stroke-width="0.7"/>
<text x="459.90" y="154.40" font-size="4.4px" font-weight="bold" font-style="normal" text-anchor="middle" fill="#000" stroke="#000" stroke-width="0.3">40</text>
<line x1="470.45" y1="146.50" x2="470.45" y2="148.30" stroke="#000" stroke-width="0.7"/>
<text x="470.45" y="154.40" font-size="4.4px" font-weight="bold" font-style="normal" text-anchor="middle" fill="#000" stroke="#000" stroke-width="0.3">45</text>
<line x1="481.00" y1="146.50" x2="481.00" y2="148.30" stroke="#000" stroke-width="0.7"/>
<text x="481.00" y="154.40" font-size="4.4px" font-weight="bold" font-style="normal" text-anchor="middle" fill="#000" stroke="#000" stroke-width="0.3">50</text>
<line x1="491.55" y1="146.50" x2="491.55" y2="148.30" stroke="#000" stroke-width="0.7"/>
<text x="491.55" y="154.40" font-size="4.4px" font-weight="bold" font-style="normal" text-anchor="middle" fill="#000" stroke="#000" stroke-width="0.3">55</text>
<text x="417.50" y="25.00" font-size="5.6px" font-weight="bold" font-style="normal" text-anchor="start" fill="#000" stroke="#000" stroke-width="0.3">BN55</text>
<text x="458.50" y="162.50" font-size="6.0px" font-weight="bold" font-style="normal" text-anchor="middle" fill="#000" stroke="#000" stroke-width="0.3">Days after cell injection</text>
<text x="391.30" y="97.70" font-size="5.95px" font-weight="bold" font-style="normal" text-anchor="middle" fill="#000" transform="rotate(-90 391.30 97.70)" stroke="#000" stroke-width="0.3">Tumor volume (mm<tspan font-size="3.6px" dy="-1.9">3</tspan><tspan dy="1.9">)</tspan></text>
<text x="398.60" y="97.40" font-size="6.0px" font-weight="bold" font-style="normal" text-anchor="middle" fill="#000" transform="rotate(-90 398.60 97.40)" textLength="23" lengthAdjust="spacing" stroke="#000" stroke-width="0.3">+/- SEM</text>
<polyline points="417.70,145.81 428.25,144.67 438.80,144.67 449.35,144.67 459.90,139.17 470.45,136.19 481.00,134.59 491.55,126.35" fill="none" stroke="#dccbe8" stroke-width="0.9" stroke-linejoin="round"/>
<polyline points="417.70,146.04 428.25,144.67 438.80,144.67 449.35,144.67 459.90,143.29 470.45,142.84 481.00,140.55 491.55,134.59" fill="none" stroke="#e81ee8" stroke-width="0.9" stroke-linejoin="round"/>
<circle cx="428.25" cy="144.67" r="1.40" fill="#e81ee8"/>
<circle cx="438.80" cy="144.67" r="1.40" fill="#e81ee8"/>
<circle cx="449.35" cy="144.67" r="1.40" fill="#e81ee8"/>
<circle cx="459.90" cy="143.29" r="1.40" fill="#e81ee8"/>
<circle cx="470.45" cy="142.84" r="1.40" fill="#e81ee8"/>
<circle cx="481.00" cy="140.55" r="1.40" fill="#e81ee8"/>
<circle cx="491.55" cy="134.59" r="1.40" fill="#e81ee8"/>
<line x1="459.90" y1="133.05" x2="459.90" y2="137.05" stroke="#2fc82f" stroke-width="0.75"/>
<line x1="458.90" y1="133.05" x2="460.90" y2="133.05" stroke="#2fc82f" stroke-width="0.6"/>
<line x1="458.90" y1="137.05" x2="460.90" y2="137.05" stroke="#2fc82f" stroke-width="0.6"/>
<line x1="470.45" y1="114.56" x2="470.45" y2="122.56" stroke="#2fc82f" stroke-width="0.75"/>
<line x1="469.45" y1="114.56" x2="471.45" y2="114.56" stroke="#2fc82f" stroke-width="0.6"/>
<line x1="469.45" y1="122.56" x2="471.45" y2="122.56" stroke="#2fc82f" stroke-width="0.6"/>
<line x1="481.00" y1="101.05" x2="481.00" y2="109.05" stroke="#2fc82f" stroke-width="0.75"/>
<line x1="480.00" y1="101.05" x2="482.00" y2="101.05" stroke="#2fc82f" stroke-width="0.6"/>
<line x1="480.00" y1="109.05" x2="482.00" y2="109.05" stroke="#2fc82f" stroke-width="0.6"/>
<line x1="491.55" y1="77.84" x2="491.55" y2="87.84" stroke="#2fc82f" stroke-width="0.75"/>
<line x1="490.55" y1="77.84" x2="492.55" y2="77.84" stroke="#2fc82f" stroke-width="0.6"/>
<line x1="490.55" y1="87.84" x2="492.55" y2="87.84" stroke="#2fc82f" stroke-width="0.6"/>
<polyline points="417.70,145.81 428.25,143.29 438.80,142.84 449.35,141.23 459.90,135.05 470.45,118.56 481.00,105.05 491.55,82.84" fill="none" stroke="#2fc82f" stroke-width="0.9" stroke-linejoin="round"/>
<path d="M428.25 141.61 L429.82 144.53 L426.68 144.53 Z" fill="#2fc82f"/>
<path d="M438.80 141.16 L440.37 144.07 L437.23 144.07 Z" fill="#2fc82f"/>
<path d="M449.35 139.55 L450.92 142.47 L447.78 142.47 Z" fill="#2fc82f"/>
<path d="M459.90 133.37 L461.47 136.28 L458.33 136.28 Z" fill="#2fc82f"/>
<path d="M470.45 116.88 L472.02 119.79 L468.88 119.79 Z" fill="#2fc82f"/>
<path d="M481.00 103.37 L482.57 106.28 L479.43 106.28 Z" fill="#2fc82f"/>
<path d="M491.55 81.16 L493.12 84.07 L489.98 84.07 Z" fill="#2fc82f"/>
<line x1="459.90" y1="122.52" x2="459.90" y2="126.52" stroke="#19c4e0" stroke-width="0.75"/>
<line x1="458.90" y1="122.52" x2="460.90" y2="122.52" stroke="#19c4e0" stroke-width="0.6"/>
<line x1="458.90" y1="126.52" x2="460.90" y2="126.52" stroke="#19c4e0" stroke-width="0.6"/>
<line x1="470.45" y1="113.56" x2="470.45" y2="123.56" stroke="#19c4e0" stroke-width="0.75"/>
<line x1="469.45" y1="113.56" x2="471.45" y2="113.56" stroke="#19c4e0" stroke-width="0.6"/>
<line x1="469.45" y1="123.56" x2="471.45" y2="123.56" stroke="#19c4e0" stroke-width="0.6"/>
<line x1="481.00" y1="101.74" x2="481.00" y2="109.74" stroke="#19c4e0" stroke-width="0.75"/>
<line x1="480.00" y1="101.74" x2="482.00" y2="101.74" stroke="#19c4e0" stroke-width="0.6"/>
<line x1="480.00" y1="109.74" x2="482.00" y2="109.74" stroke="#19c4e0" stroke-width="0.6"/>
<line x1="491.55" y1="93.35" x2="491.55" y2="99.35" stroke="#19c4e0" stroke-width="0.75"/>
<line x1="490.55" y1="93.35" x2="492.55" y2="93.35" stroke="#19c4e0" stroke-width="0.6"/>
<line x1="490.55" y1="99.35" x2="492.55" y2="99.35" stroke="#19c4e0" stroke-width="0.6"/>
<polyline points="417.70,145.81 428.25,143.29 438.80,140.78 449.35,138.03 459.90,124.52 470.45,118.56 481.00,105.74 491.55,96.35" fill="none" stroke="#19c4e0" stroke-width="0.9" stroke-linejoin="round"/>
<path d="M428.25 141.50 L429.82 143.29 L428.25 145.09 L426.68 143.29 Z" fill="#19c4e0"/>
<path d="M438.80 138.98 L440.37 140.78 L438.80 142.57 L437.23 140.78 Z" fill="#19c4e0"/>
<path d="M449.35 136.23 L450.92 138.03 L449.35 139.82 L447.78 138.03 Z" fill="#19c4e0"/>
<path d="M459.90 122.72 L461.47 124.52 L459.90 126.31 L458.33 124.52 Z" fill="#19c4e0"/>
<path d="M470.45 116.77 L472.02 118.56 L470.45 120.35 L468.88 118.56 Z" fill="#19c4e0"/>
<path d="M481.00 103.95 L482.57 105.74 L481.00 107.53 L479.43 105.74 Z" fill="#19c4e0"/>
<path d="M491.55 94.56 L493.12 96.35 L491.55 98.14 L489.98 96.35 Z" fill="#19c4e0"/>
<line x1="459.90" y1="128.97" x2="459.90" y2="131.97" stroke="#3238cc" stroke-width="0.75"/>
<line x1="458.90" y1="128.97" x2="460.90" y2="128.97" stroke="#3238cc" stroke-width="0.6"/>
<line x1="458.90" y1="131.97" x2="460.90" y2="131.97" stroke="#3238cc" stroke-width="0.6"/>
<line x1="470.45" y1="129.89" x2="470.45" y2="132.89" stroke="#3238cc" stroke-width="0.75"/>
<line x1="469.45" y1="129.89" x2="471.45" y2="129.89" stroke="#3238cc" stroke-width="0.6"/>
<line x1="469.45" y1="132.89" x2="471.45" y2="132.89" stroke="#3238cc" stroke-width="0.6"/>
<line x1="481.00" y1="113.96" x2="481.00" y2="119.96" stroke="#3238cc" stroke-width="0.75"/>
<line x1="480.00" y1="113.96" x2="482.00" y2="113.96" stroke="#3238cc" stroke-width="0.6"/>
<line x1="480.00" y1="119.96" x2="482.00" y2="119.96" stroke="#3238cc" stroke-width="0.6"/>
<line x1="491.55" y1="101.05" x2="491.55" y2="109.05" stroke="#3238cc" stroke-width="0.75"/>
<line x1="490.55" y1="101.05" x2="492.55" y2="101.05" stroke="#3238cc" stroke-width="0.6"/>
<line x1="490.55" y1="109.05" x2="492.55" y2="109.05" stroke="#3238cc" stroke-width="0.6"/>
<polyline points="417.70,145.81 428.25,144.21 438.80,143.29 449.35,143.29 459.90,130.47 470.45,131.39 481.00,116.96 491.55,105.05" fill="none" stroke="#3238cc" stroke-width="0.9" stroke-linejoin="round"/>
<circle cx="428.25" cy="144.21" r="1.40" fill="#fff" stroke="#3238cc" stroke-width="0.7"/>
<circle cx="438.80" cy="143.29" r="1.40" fill="#fff" stroke="#3238cc" stroke-width="0.7"/>
<circle cx="449.35" cy="143.29" r="1.40" fill="#fff" stroke="#3238cc" stroke-width="0.7"/>
<circle cx="459.90" cy="130.47" r="1.40" fill="#fff" stroke="#3238cc" stroke-width="0.7"/>
<circle cx="470.45" cy="131.39" r="1.40" fill="#fff" stroke="#3238cc" stroke-width="0.7"/>
<circle cx="481.00" cy="116.96" r="1.40" fill="#fff" stroke="#3238cc" stroke-width="0.7"/>
<circle cx="491.55" cy="105.05" r="1.40" fill="#fff" stroke="#3238cc" stroke-width="0.7"/>
<line x1="438.80" y1="134.51" x2="438.80" y2="136.51" stroke="#dd4040" stroke-width="0.75"/>
<line x1="437.80" y1="134.51" x2="439.80" y2="134.51" stroke="#dd4040" stroke-width="0.6"/>
<line x1="437.80" y1="136.51" x2="439.80" y2="136.51" stroke="#dd4040" stroke-width="0.6"/>
<line x1="449.35" y1="129.89" x2="449.35" y2="132.89" stroke="#dd4040" stroke-width="0.75"/>
<line x1="448.35" y1="129.89" x2="450.35" y2="129.89" stroke="#dd4040" stroke-width="0.6"/>
<line x1="448.35" y1="132.89" x2="450.35" y2="132.89" stroke="#dd4040" stroke-width="0.6"/>
<line x1="459.90" y1="123.20" x2="459.90" y2="127.20" stroke="#dd4040" stroke-width="0.75"/>
<line x1="458.90" y1="123.20" x2="460.90" y2="123.20" stroke="#dd4040" stroke-width="0.6"/>
<line x1="458.90" y1="127.20" x2="460.90" y2="127.20" stroke="#dd4040" stroke-width="0.6"/>
<line x1="470.45" y1="85.83" x2="470.45" y2="101.83" stroke="#dd4040" stroke-width="0.75"/>
<line x1="469.45" y1="85.83" x2="471.45" y2="85.83" stroke="#dd4040" stroke-width="0.6"/>
<line x1="469.45" y1="101.83" x2="471.45" y2="101.83" stroke="#dd4040" stroke-width="0.6"/>
<line x1="481.00" y1="61.14" x2="481.00" y2="87.14" stroke="#dd4040" stroke-width="0.75"/>
<line x1="480.00" y1="61.14" x2="482.00" y2="61.14" stroke="#dd4040" stroke-width="0.6"/>
<line x1="480.00" y1="87.14" x2="482.00" y2="87.14" stroke="#dd4040" stroke-width="0.6"/>
<line x1="491.55" y1="55.49" x2="491.55" y2="79.49" stroke="#dd4040" stroke-width="0.75"/>
<line x1="490.55" y1="55.49" x2="492.55" y2="55.49" stroke="#dd4040" stroke-width="0.6"/>
<line x1="490.55" y1="79.49" x2="492.55" y2="79.49" stroke="#dd4040" stroke-width="0.6"/>
<polyline points="417.70,145.81 428.25,141.23 438.80,135.51 449.35,131.39 459.90,125.20 470.45,93.83 481.00,74.14 491.55,67.49" fill="none" stroke="#dd4040" stroke-width="0.9" stroke-linejoin="round"/>
<circle cx="428.25" cy="141.23" r="1.40" fill="#fff" stroke="#dd4040" stroke-width="0.7"/>
<circle cx="438.80" cy="135.51" r="1.40" fill="#fff" stroke="#dd4040" stroke-width="0.7"/>
<circle cx="449.35" cy="131.39" r="1.40" fill="#fff" stroke="#dd4040" stroke-width="0.7"/>
<circle cx="459.90" cy="125.20" r="1.40" fill="#fff" stroke="#dd4040" stroke-width="0.7"/>
<circle cx="470.45" cy="93.83" r="1.40" fill="#fff" stroke="#dd4040" stroke-width="0.7"/>
<circle cx="481.00" cy="74.14" r="1.40" fill="#fff" stroke="#dd4040" stroke-width="0.7"/>
<circle cx="491.55" cy="67.49" r="1.40" fill="#fff" stroke="#dd4040" stroke-width="0.7"/>
<line x1="428.25" y1="136.57" x2="428.25" y2="138.57" stroke="#000" stroke-width="0.75"/>
<line x1="427.25" y1="136.57" x2="429.25" y2="136.57" stroke="#000" stroke-width="0.6"/>
<line x1="427.25" y1="138.57" x2="429.25" y2="138.57" stroke="#000" stroke-width="0.6"/>
<line x1="438.80" y1="116.39" x2="438.80" y2="124.39" stroke="#000" stroke-width="0.75"/>
<line x1="437.80" y1="116.39" x2="439.80" y2="116.39" stroke="#000" stroke-width="0.6"/>
<line x1="437.80" y1="124.39" x2="439.80" y2="124.39" stroke="#000" stroke-width="0.6"/>
<line x1="449.35" y1="78.98" x2="449.35" y2="88.98" stroke="#000" stroke-width="0.75"/>
<line x1="448.35" y1="78.98" x2="450.35" y2="78.98" stroke="#000" stroke-width="0.6"/>
<line x1="448.35" y1="88.98" x2="450.35" y2="88.98" stroke="#000" stroke-width="0.6"/>
<line x1="459.90" y1="62.18" x2="459.90" y2="74.18" stroke="#000" stroke-width="0.75"/>
<line x1="458.90" y1="62.18" x2="460.90" y2="62.18" stroke="#000" stroke-width="0.6"/>
<line x1="458.90" y1="74.18" x2="460.90" y2="74.18" stroke="#000" stroke-width="0.6"/>
<line x1="470.45" y1="55.89" x2="470.45" y2="75.89" stroke="#000" stroke-width="0.75"/>
<line x1="469.45" y1="55.89" x2="471.45" y2="55.89" stroke="#000" stroke-width="0.6"/>
<line x1="469.45" y1="75.89" x2="471.45" y2="75.89" stroke="#000" stroke-width="0.6"/>
<line x1="481.00" y1="43.94" x2="481.00" y2="64.94" stroke="#000" stroke-width="0.75"/>
<line x1="480.00" y1="43.94" x2="482.00" y2="43.94" stroke="#000" stroke-width="0.6"/>
<line x1="480.00" y1="64.94" x2="482.00" y2="64.94" stroke="#000" stroke-width="0.6"/>
<line x1="491.55" y1="35.57" x2="491.55" y2="59.57" stroke="#000" stroke-width="0.75"/>
<line x1="490.55" y1="35.57" x2="492.55" y2="35.57" stroke="#000" stroke-width="0.6"/>
<line x1="490.55" y1="59.57" x2="492.55" y2="59.57" stroke="#000" stroke-width="0.6"/>
<polyline points="417.70,145.81 428.25,137.57 438.80,120.39 449.35,83.98 459.90,68.18 470.45,65.89 481.00,54.44 491.55,47.57" fill="none" stroke="#000" stroke-width="0.9" stroke-linejoin="round"/>
<circle cx="428.25" cy="137.57" r="1.51" fill="#000"/>
<circle cx="438.80" cy="120.39" r="1.51" fill="#000"/>
<circle cx="449.35" cy="83.98" r="1.51" fill="#000"/>
<circle cx="459.90" cy="68.18" r="1.51" fill="#000"/>
<circle cx="470.45" cy="65.89" r="1.51" fill="#000"/>
<circle cx="481.00" cy="54.44" r="1.51" fill="#000"/>
<circle cx="491.55" cy="47.57" r="1.51" fill="#000"/>
<line x1="422.90" y1="38.00" x2="432.90" y2="38.00" stroke="#000" stroke-width="0.7"/>
<circle cx="427.90" cy="38.00" r="1.55" fill="#000"/>
<text x="434.90" y="39.65" font-size="4.7px" font-weight="bold" font-style="normal" text-anchor="start" fill="#000" stroke="#000" stroke-width="0.3">Vehicle</text>
<line x1="422.90" y1="44.08" x2="432.90" y2="44.08" stroke="#dd4040" stroke-width="0.7"/>
<circle cx="427.90" cy="44.08" r="1.44" fill="#fff" stroke="#dd4040" stroke-width="0.7"/>
<text x="434.90" y="45.73" font-size="4.7px" font-weight="bold" font-style="normal" text-anchor="start" fill="#000" stroke="#000" stroke-width="0.3">Panitumumab</text>
<line x1="422.90" y1="50.16" x2="432.90" y2="50.16" stroke="#2fc82f" stroke-width="0.7"/>
<path d="M427.90 48.43 L429.51 51.42 L426.29 51.42 Z" fill="#2fc82f"/>
<text x="434.90" y="51.81" font-size="4.7px" font-weight="bold" font-style="normal" text-anchor="start" fill="#000" stroke="#000" stroke-width="0.3">Tarextumab</text>
<line x1="422.90" y1="56.24" x2="432.90" y2="56.24" stroke="#3238cc" stroke-width="0.7"/>
<circle cx="427.90" cy="56.24" r="1.44" fill="#fff" stroke="#3238cc" stroke-width="0.7"/>
<text x="434.90" y="57.89" font-size="4.7px" font-weight="bold" font-style="normal" text-anchor="start" fill="#000" stroke="#000" stroke-width="0.3">MEDH7945A</text>
<line x1="422.90" y1="62.32" x2="432.90" y2="62.32" stroke="#19c4e0" stroke-width="0.7"/>
<path d="M427.90 60.48 L429.51 62.32 L427.90 64.16 L426.29 62.32 Z" fill="#19c4e0"/>
<text x="434.90" y="63.97" font-size="4.7px" font-weight="bold" font-style="normal" text-anchor="start" fill="#000" stroke="#000" stroke-width="0.3">P+T</text>
<line x1="422.90" y1="68.40" x2="432.90" y2="68.40" stroke="#e81ee8" stroke-width="0.7"/>
<circle cx="427.90" cy="68.40" r="1.44" fill="#e81ee8"/>
<text x="434.90" y="70.05" font-size="4.7px" font-weight="bold" font-style="normal" text-anchor="start" fill="#000" stroke="#000" stroke-width="0.3">PTG12</text>
<line x1="422.90" y1="74.48" x2="432.90" y2="74.48" stroke="#dccbe8" stroke-width="0.7"/>
<text x="434.90" y="76.13" font-size="4.7px" font-weight="bold" font-style="normal" text-anchor="start" fill="#000" stroke="#000" stroke-width="0.3">MTJ16</text>
<text x="496.00" y="106.90" font-size="8.6px" font-weight="bold" font-style="normal" text-anchor="middle" fill="#000" stroke="#000" stroke-width="0.55">*</text>
<text x="496.00" y="130.60" font-size="8.6px" font-weight="bold" font-style="normal" text-anchor="middle" fill="#000" stroke="#000" stroke-width="0.55">*</text>
<text x="498.80" y="128.00" font-size="5.2px" font-weight="bold" font-style="italic" text-anchor="start" fill="#000" stroke="#000" stroke-width="0.3">#</text>
<text x="496.00" y="139.90" font-size="8.6px" font-weight="bold" font-style="normal" text-anchor="middle" fill="#000" stroke="#000" stroke-width="0.55">*</text>
<text x="498.80" y="137.30" font-size="5.2px" font-weight="bold" font-style="italic" text-anchor="start" fill="#000" stroke="#000" stroke-width="0.3">#</text>
<g filter="url(#bl)">
<rect x="31.05" y="269.73" width="1.26" height="28.97" fill="#000000"/>
<line x1="31.66" y1="268.73" x2="31.66" y2="269.73" stroke="#000000" stroke-width="0.35"/>
<rect x="32.28" y="266.83" width="1.26" height="31.87" fill="#c81414"/>
<rect x="32.28" y="269.73" width="1.26" height="28.97" fill="#6a0a0a"/>
<line x1="32.90" y1="265.83" x2="32.90" y2="266.83" stroke="#c81414" stroke-width="0.35"/>
<rect x="33.51" y="270.02" width="1.26" height="28.68" fill="#2cbc2c"/>
<line x1="34.12" y1="269.02" x2="34.12" y2="270.02" stroke="#2cbc2c" stroke-width="0.35"/>
<rect x="34.74" y="267.70" width="1.26" height="31.00" fill="#1010d8"/>
<line x1="35.36" y1="266.70" x2="35.36" y2="267.70" stroke="#1010d8" stroke-width="0.35"/>
<rect x="35.97" y="265.38" width="1.26" height="33.32" fill="#10c0f4"/>
<line x1="36.59" y1="264.38" x2="36.59" y2="265.38" stroke="#10c0f4" stroke-width="0.35"/>
<rect x="37.20" y="266.83" width="1.26" height="31.87" fill="#e030e0"/>
<line x1="37.82" y1="265.83" x2="37.82" y2="266.83" stroke="#e030e0" stroke-width="0.35"/>
<rect x="38.43" y="264.81" width="1.26" height="33.89" fill="#9060d8"/>
<line x1="39.05" y1="263.81" x2="39.05" y2="264.81" stroke="#9060d8" stroke-width="0.35"/>
<rect x="42.30" y="269.73" width="1.26" height="28.97" fill="#000000"/>
<line x1="42.91" y1="268.73" x2="42.91" y2="269.73" stroke="#000000" stroke-width="0.35"/>
<rect x="43.53" y="266.25" width="1.26" height="32.45" fill="#c81414"/>
<rect x="43.53" y="269.73" width="1.26" height="28.97" fill="#6a0a0a"/>
<line x1="44.14" y1="265.25" x2="44.14" y2="266.25" stroke="#c81414" stroke-width="0.35"/>
<rect x="44.76" y="267.70" width="1.26" height="31.00" fill="#2cbc2c"/>
<line x1="45.38" y1="266.70" x2="45.38" y2="267.70" stroke="#2cbc2c" stroke-width="0.35"/>
<rect x="45.99" y="270.89" width="1.26" height="27.81" fill="#1010d8"/>
<line x1="46.60" y1="269.89" x2="46.60" y2="270.89" stroke="#1010d8" stroke-width="0.35"/>
<rect x="47.22" y="271.47" width="1.26" height="27.23" fill="#10c0f4"/>
<line x1="47.84" y1="270.47" x2="47.84" y2="271.47" stroke="#10c0f4" stroke-width="0.35"/>
<rect x="48.45" y="266.25" width="1.26" height="32.45" fill="#e030e0"/>
<line x1="49.06" y1="265.25" x2="49.06" y2="266.25" stroke="#e030e0" stroke-width="0.35"/>
<rect x="49.68" y="263.94" width="1.26" height="34.76" fill="#9060d8"/>
<line x1="50.30" y1="262.94" x2="50.30" y2="263.94" stroke="#9060d8" stroke-width="0.35"/>
<rect x="53.55" y="269.73" width="1.26" height="28.97" fill="#000000"/>
<line x1="54.16" y1="268.73" x2="54.16" y2="269.73" stroke="#000000" stroke-width="0.35"/>
<rect x="54.78" y="266.25" width="1.26" height="32.45" fill="#c81414"/>
<rect x="54.78" y="269.73" width="1.26" height="28.97" fill="#6a0a0a"/>
<line x1="55.39" y1="265.25" x2="55.39" y2="266.25" stroke="#c81414" stroke-width="0.35"/>
<rect x="56.01" y="271.47" width="1.26" height="27.23" fill="#2cbc2c"/>
<line x1="56.62" y1="270.47" x2="56.62" y2="271.47" stroke="#2cbc2c" stroke-width="0.35"/>
<rect x="57.24" y="264.52" width="1.26" height="34.18" fill="#1010d8"/>
<line x1="57.85" y1="263.52" x2="57.85" y2="264.52" stroke="#1010d8" stroke-width="0.35"/>
<rect x="58.47" y="265.38" width="1.26" height="33.32" fill="#10c0f4"/>
<line x1="59.09" y1="264.38" x2="59.09" y2="265.38" stroke="#10c0f4" stroke-width="0.35"/>
<rect x="59.70" y="271.47" width="1.26" height="27.23" fill="#e030e0"/>
<line x1="60.31" y1="270.47" x2="60.31" y2="271.47" stroke="#e030e0" stroke-width="0.35"/>
<rect x="60.93" y="265.38" width="1.26" height="33.32" fill="#9060d8"/>
<line x1="61.55" y1="264.38" x2="61.55" y2="265.38" stroke="#9060d8" stroke-width="0.35"/>
<rect x="64.80" y="269.73" width="1.26" height="28.97" fill="#000000"/>
<line x1="65.41" y1="268.73" x2="65.41" y2="269.73" stroke="#000000" stroke-width="0.35"/>
<rect x="66.03" y="254.38" width="1.26" height="44.32" fill="#c81414"/>
<rect x="66.03" y="269.73" width="1.26" height="28.97" fill="#6a0a0a"/>
<line x1="66.64" y1="253.38" x2="66.64" y2="254.38" stroke="#c81414" stroke-width="0.35"/>
<rect x="67.26" y="266.25" width="1.26" height="32.45" fill="#2cbc2c"/>
<line x1="67.87" y1="265.25" x2="67.87" y2="266.25" stroke="#2cbc2c" stroke-width="0.35"/>
<rect x="68.49" y="239.02" width="1.26" height="59.68" fill="#1010d8"/>
<line x1="69.10" y1="238.02" x2="69.10" y2="239.02" stroke="#1010d8" stroke-width="0.35"/>
<rect x="69.72" y="259.88" width="1.26" height="38.82" fill="#10c0f4"/>
<line x1="70.33" y1="258.88" x2="70.33" y2="259.88" stroke="#10c0f4" stroke-width="0.35"/>
<rect x="70.95" y="276.10" width="1.26" height="22.60" fill="#e030e0"/>
<line x1="71.56" y1="275.10" x2="71.56" y2="276.10" stroke="#e030e0" stroke-width="0.35"/>
<rect x="72.18" y="268.57" width="1.26" height="30.13" fill="#9060d8"/>
<line x1="72.79" y1="267.57" x2="72.79" y2="268.57" stroke="#9060d8" stroke-width="0.35"/>
<rect x="76.05" y="269.73" width="1.26" height="28.97" fill="#000000"/>
<line x1="76.66" y1="268.73" x2="76.66" y2="269.73" stroke="#000000" stroke-width="0.35"/>
<rect x="77.28" y="219.32" width="1.26" height="79.38" fill="#c81414"/>
<rect x="77.28" y="269.73" width="1.26" height="28.97" fill="#6a0a0a"/>
<line x1="77.89" y1="218.32" x2="77.89" y2="219.32" stroke="#c81414" stroke-width="0.35"/>
<rect x="78.51" y="265.38" width="1.26" height="33.32" fill="#2cbc2c"/>
<line x1="79.12" y1="264.38" x2="79.12" y2="265.38" stroke="#2cbc2c" stroke-width="0.35"/>
<rect x="79.74" y="264.52" width="1.26" height="34.18" fill="#1010d8"/>
<line x1="80.35" y1="263.52" x2="80.35" y2="264.52" stroke="#1010d8" stroke-width="0.35"/>
<rect x="80.97" y="261.62" width="1.26" height="37.08" fill="#10c0f4"/>
<line x1="81.58" y1="260.62" x2="81.58" y2="261.62" stroke="#10c0f4" stroke-width="0.35"/>
<rect x="82.20" y="276.10" width="1.26" height="22.60" fill="#e030e0"/>
<line x1="82.81" y1="275.10" x2="82.81" y2="276.10" stroke="#e030e0" stroke-width="0.35"/>
<rect x="83.43" y="263.94" width="1.26" height="34.76" fill="#9060d8"/>
<line x1="84.04" y1="262.94" x2="84.04" y2="263.94" stroke="#9060d8" stroke-width="0.35"/>
<rect x="87.30" y="269.73" width="1.26" height="28.97" fill="#000000"/>
<line x1="87.91" y1="268.73" x2="87.91" y2="269.73" stroke="#000000" stroke-width="0.35"/>
<rect x="88.53" y="245.97" width="1.26" height="52.73" fill="#c81414"/>
<rect x="88.53" y="269.73" width="1.26" height="28.97" fill="#6a0a0a"/>
<line x1="89.14" y1="244.97" x2="89.14" y2="245.97" stroke="#c81414" stroke-width="0.35"/>
<rect x="89.76" y="269.73" width="1.26" height="28.97" fill="#2cbc2c"/>
<line x1="90.37" y1="268.73" x2="90.37" y2="269.73" stroke="#2cbc2c" stroke-width="0.35"/>
<rect x="90.99" y="247.42" width="1.26" height="51.28" fill="#1010d8"/>
<line x1="91.60" y1="246.42" x2="91.60" y2="247.42" stroke="#1010d8" stroke-width="0.35"/>
<rect x="92.22" y="259.01" width="1.26" height="39.69" fill="#10c0f4"/>
<line x1="92.83" y1="258.01" x2="92.83" y2="259.01" stroke="#10c0f4" stroke-width="0.35"/>
<rect x="93.45" y="266.83" width="1.26" height="31.87" fill="#e030e0"/>
<line x1="94.06" y1="265.83" x2="94.06" y2="266.83" stroke="#e030e0" stroke-width="0.35"/>
<rect x="94.68" y="270.02" width="1.26" height="28.68" fill="#9060d8"/>
<line x1="95.29" y1="269.02" x2="95.29" y2="270.02" stroke="#9060d8" stroke-width="0.35"/>
<rect x="98.55" y="269.73" width="1.26" height="28.97" fill="#000000"/>
<line x1="99.16" y1="268.73" x2="99.16" y2="269.73" stroke="#000000" stroke-width="0.35"/>
<rect x="99.78" y="270.89" width="1.26" height="27.81" fill="#c81414"/>
<rect x="99.78" y="270.89" width="1.26" height="27.81" fill="#6a0a0a"/>
<line x1="100.39" y1="269.89" x2="100.39" y2="270.89" stroke="#c81414" stroke-width="0.35"/>
<rect x="101.01" y="274.08" width="1.26" height="24.62" fill="#2cbc2c"/>
<line x1="101.62" y1="273.08" x2="101.62" y2="274.08" stroke="#2cbc2c" stroke-width="0.35"/>
<rect x="102.24" y="257.27" width="1.26" height="41.43" fill="#1010d8"/>
<line x1="102.85" y1="256.27" x2="102.85" y2="257.27" stroke="#1010d8" stroke-width="0.35"/>
<rect x="103.47" y="265.38" width="1.26" height="33.32" fill="#10c0f4"/>
<line x1="104.08" y1="264.38" x2="104.08" y2="265.38" stroke="#10c0f4" stroke-width="0.35"/>
<rect x="104.70" y="273.21" width="1.26" height="25.49" fill="#e030e0"/>
<line x1="105.31" y1="272.21" x2="105.31" y2="273.21" stroke="#e030e0" stroke-width="0.35"/>
<rect x="105.93" y="274.65" width="1.26" height="24.05" fill="#9060d8"/>
<line x1="106.54" y1="273.65" x2="106.54" y2="274.65" stroke="#9060d8" stroke-width="0.35"/>
<rect x="109.80" y="269.73" width="1.26" height="28.97" fill="#000000"/>
<line x1="110.41" y1="268.73" x2="110.41" y2="269.73" stroke="#000000" stroke-width="0.35"/>
<rect x="111.03" y="258.43" width="1.26" height="40.27" fill="#c81414"/>
<rect x="111.03" y="269.73" width="1.26" height="28.97" fill="#6a0a0a"/>
<line x1="111.64" y1="257.43" x2="111.64" y2="258.43" stroke="#c81414" stroke-width="0.35"/>
<rect x="112.26" y="271.47" width="1.26" height="27.23" fill="#2cbc2c"/>
<line x1="112.87" y1="270.47" x2="112.87" y2="271.47" stroke="#2cbc2c" stroke-width="0.35"/>
<rect x="113.49" y="250.61" width="1.26" height="48.09" fill="#1010d8"/>
<line x1="114.10" y1="249.61" x2="114.10" y2="250.61" stroke="#1010d8" stroke-width="0.35"/>
<rect x="114.72" y="261.91" width="1.26" height="36.79" fill="#10c0f4"/>
<line x1="115.33" y1="260.91" x2="115.33" y2="261.91" stroke="#10c0f4" stroke-width="0.35"/>
<rect x="115.95" y="273.21" width="1.26" height="25.49" fill="#e030e0"/>
<line x1="116.56" y1="272.21" x2="116.56" y2="273.21" stroke="#e030e0" stroke-width="0.35"/>
<rect x="117.18" y="266.83" width="1.26" height="31.87" fill="#9060d8"/>
<line x1="117.79" y1="265.83" x2="117.79" y2="266.83" stroke="#9060d8" stroke-width="0.35"/>
<rect x="121.05" y="269.73" width="1.26" height="28.97" fill="#000000"/>
<line x1="121.66" y1="268.73" x2="121.66" y2="269.73" stroke="#000000" stroke-width="0.35"/>
<rect x="122.28" y="256.40" width="1.26" height="42.30" fill="#c81414"/>
<rect x="122.28" y="269.73" width="1.26" height="28.97" fill="#6a0a0a"/>
<line x1="122.89" y1="255.40" x2="122.89" y2="256.40" stroke="#c81414" stroke-width="0.35"/>
<rect x="123.51" y="265.38" width="1.26" height="33.32" fill="#2cbc2c"/>
<line x1="124.12" y1="264.38" x2="124.12" y2="265.38" stroke="#2cbc2c" stroke-width="0.35"/>
<rect x="124.74" y="225.41" width="1.26" height="73.29" fill="#1010d8"/>
<line x1="125.35" y1="224.41" x2="125.35" y2="225.41" stroke="#1010d8" stroke-width="0.35"/>
<rect x="125.97" y="250.61" width="1.26" height="48.09" fill="#10c0f4"/>
<line x1="126.58" y1="249.61" x2="126.58" y2="250.61" stroke="#10c0f4" stroke-width="0.35"/>
<rect x="127.20" y="264.52" width="1.26" height="34.18" fill="#e030e0"/>
<line x1="127.81" y1="263.52" x2="127.81" y2="264.52" stroke="#e030e0" stroke-width="0.35"/>
<rect x="128.43" y="266.25" width="1.26" height="32.45" fill="#9060d8"/>
<line x1="129.05" y1="265.25" x2="129.05" y2="266.25" stroke="#9060d8" stroke-width="0.35"/>
<rect x="132.30" y="269.73" width="1.26" height="28.97" fill="#000000"/>
<line x1="132.92" y1="268.73" x2="132.92" y2="269.73" stroke="#000000" stroke-width="0.35"/>
<rect x="133.53" y="231.20" width="1.26" height="67.50" fill="#c81414"/>
<rect x="133.53" y="269.73" width="1.26" height="28.97" fill="#6a0a0a"/>
<line x1="134.15" y1="230.20" x2="134.15" y2="231.20" stroke="#c81414" stroke-width="0.35"/>
<rect x="134.76" y="270.02" width="1.26" height="28.68" fill="#2cbc2c"/>
<line x1="135.38" y1="269.02" x2="135.38" y2="270.02" stroke="#2cbc2c" stroke-width="0.35"/>
<rect x="135.99" y="229.75" width="1.26" height="68.95" fill="#1010d8"/>
<line x1="136.61" y1="228.75" x2="136.61" y2="229.75" stroke="#1010d8" stroke-width="0.35"/>
<rect x="137.22" y="268.57" width="1.26" height="30.13" fill="#10c0f4"/>
<line x1="137.84" y1="267.57" x2="137.84" y2="268.57" stroke="#10c0f4" stroke-width="0.35"/>
<rect x="138.45" y="273.21" width="1.26" height="25.49" fill="#e030e0"/>
<line x1="139.07" y1="272.21" x2="139.07" y2="273.21" stroke="#e030e0" stroke-width="0.35"/>
<rect x="139.68" y="271.47" width="1.26" height="27.23" fill="#9060d8"/>
<line x1="140.30" y1="270.47" x2="140.30" y2="271.47" stroke="#9060d8" stroke-width="0.35"/>
<rect x="143.55" y="269.73" width="1.26" height="28.97" fill="#000000"/>
<line x1="144.17" y1="268.73" x2="144.17" y2="269.73" stroke="#000000" stroke-width="0.35"/>
<rect x="144.78" y="264.52" width="1.26" height="34.18" fill="#c81414"/>
<rect x="144.78" y="269.73" width="1.26" height="28.97" fill="#6a0a0a"/>
<line x1="145.40" y1="263.52" x2="145.40" y2="264.52" stroke="#c81414" stroke-width="0.35"/>
<rect x="146.01" y="270.89" width="1.26" height="27.81" fill="#2cbc2c"/>
<line x1="146.63" y1="269.89" x2="146.63" y2="270.89" stroke="#2cbc2c" stroke-width="0.35"/>
<rect x="147.24" y="229.75" width="1.26" height="68.95" fill="#1010d8"/>
<line x1="147.86" y1="228.75" x2="147.86" y2="229.75" stroke="#1010d8" stroke-width="0.35"/>
<rect x="148.47" y="277.84" width="1.26" height="20.86" fill="#10c0f4"/>
<line x1="149.09" y1="276.84" x2="149.09" y2="277.84" stroke="#10c0f4" stroke-width="0.35"/>
<rect x="149.70" y="271.47" width="1.26" height="27.23" fill="#e030e0"/>
<line x1="150.32" y1="270.47" x2="150.32" y2="271.47" stroke="#e030e0" stroke-width="0.35"/>
<rect x="150.93" y="259.01" width="1.26" height="39.69" fill="#9060d8"/>
<line x1="151.55" y1="258.01" x2="151.55" y2="259.01" stroke="#9060d8" stroke-width="0.35"/>
</g>
<line x1="29.70" y1="211.49" x2="29.70" y2="299.00" stroke="#000" stroke-width="0.7"/>
<line x1="29.40" y1="298.70" x2="153.65" y2="298.70" stroke="#000" stroke-width="0.8"/>
<line x1="28.20" y1="298.70" x2="29.70" y2="298.70" stroke="#000" stroke-width="0.6"/>
<text x="27.20" y="300.05" font-size="3.8px" font-weight="bold" font-style="normal" text-anchor="end" fill="#000" stroke="#000" stroke-width="0.3">0.0</text>
<line x1="28.20" y1="284.21" x2="29.70" y2="284.21" stroke="#000" stroke-width="0.6"/>
<text x="27.20" y="285.56" font-size="3.8px" font-weight="bold" font-style="normal" text-anchor="end" fill="#000" stroke="#000" stroke-width="0.3">0.5</text>
<line x1="28.20" y1="269.73" x2="29.70" y2="269.73" stroke="#000" stroke-width="0.6"/>
<text x="27.20" y="271.08" font-size="3.8px" font-weight="bold" font-style="normal" text-anchor="end" fill="#000" stroke="#000" stroke-width="0.3">1.0</text>
<line x1="28.20" y1="255.25" x2="29.70" y2="255.25" stroke="#000" stroke-width="0.6"/>
<text x="27.20" y="256.60" font-size="3.8px" font-weight="bold" font-style="normal" text-anchor="end" fill="#000" stroke="#000" stroke-width="0.3">1.5</text>
<line x1="28.20" y1="240.76" x2="29.70" y2="240.76" stroke="#000" stroke-width="0.6"/>
<text x="27.20" y="242.11" font-size="3.8px" font-weight="bold" font-style="normal" text-anchor="end" fill="#000" stroke="#000" stroke-width="0.3">2.0</text>
<line x1="28.20" y1="226.27" x2="29.70" y2="226.27" stroke="#000" stroke-width="0.6"/>
<text x="27.20" y="227.62" font-size="3.8px" font-weight="bold" font-style="normal" text-anchor="end" fill="#000" stroke="#000" stroke-width="0.3">2.5</text>
<line x1="28.20" y1="211.79" x2="29.70" y2="211.79" stroke="#000" stroke-width="0.6"/>
<text x="27.20" y="213.14" font-size="3.8px" font-weight="bold" font-style="normal" text-anchor="end" fill="#000" stroke="#000" stroke-width="0.3">3.0</text>
<text x="31.40" y="208.49" font-size="4.0px" font-weight="bold" font-style="normal" text-anchor="start" fill="#000" stroke="#000" stroke-width="0.3">BN16</text>
<text x="37.10" y="305.10" font-size="5.0px" font-weight="bold" font-style="italic" text-anchor="end" fill="#000" transform="rotate(-90 37.10 305.10)" stroke="#000" stroke-width="0.3">CDH1</text>
<text x="48.35" y="305.10" font-size="5.0px" font-weight="bold" font-style="italic" text-anchor="end" fill="#000" transform="rotate(-90 48.35 305.10)" stroke="#000" stroke-width="0.3">CLDN4</text>
<text x="59.60" y="305.10" font-size="5.0px" font-weight="bold" font-style="italic" text-anchor="end" fill="#000" transform="rotate(-90 59.60 305.10)" stroke="#000" stroke-width="0.3">CLDN7</text>
<text x="70.85" y="305.10" font-size="5.0px" font-weight="bold" font-style="italic" text-anchor="end" fill="#000" transform="rotate(-90 70.85 305.10)" stroke="#000" stroke-width="0.3">TWIST1</text>
<text x="82.10" y="305.10" font-size="5.0px" font-weight="bold" font-style="italic" text-anchor="end" fill="#000" transform="rotate(-90 82.10 305.10)" stroke="#000" stroke-width="0.3">TWIST2</text>
<text x="93.35" y="305.10" font-size="5.0px" font-weight="bold" font-style="italic" text-anchor="end" fill="#000" transform="rotate(-90 93.35 305.10)" stroke="#000" stroke-width="0.3">SNAL1</text>
<text x="104.60" y="305.10" font-size="5.0px" font-weight="bold" font-style="italic" text-anchor="end" fill="#000" transform="rotate(-90 104.60 305.10)" stroke="#000" stroke-width="0.3">SNAL2</text>
<text x="115.85" y="305.10" font-size="5.0px" font-weight="bold" font-style="italic" text-anchor="end" fill="#000" transform="rotate(-90 115.85 305.10)" stroke="#000" stroke-width="0.3">VIM</text>
<text x="127.10" y="305.10" font-size="5.0px" font-weight="bold" font-style="italic" text-anchor="end" fill="#000" transform="rotate(-90 127.10 305.10)" stroke="#000" stroke-width="0.3">FN1</text>
<text x="138.35" y="305.10" font-size="5.0px" font-weight="bold" font-style="italic" text-anchor="end" fill="#000" transform="rotate(-90 138.35 305.10)" stroke="#000" stroke-width="0.3">HES1</text>
<text x="149.60" y="305.10" font-size="5.0px" font-weight="bold" font-style="italic" text-anchor="end" fill="#000" transform="rotate(-90 149.60 305.10)" stroke="#000" stroke-width="0.3">HEY1</text>
<text x="10.35" y="260.00" font-size="3.8px" font-weight="bold" font-style="normal" text-anchor="middle" fill="#000" transform="rotate(-90 10.35 260.00)" stroke="#000" stroke-width="0.3">Relative quantity vs.</text>
<text x="15.85" y="260.00" font-size="3.4px" font-weight="bold" font-style="normal" text-anchor="middle" fill="#000" transform="rotate(-90 15.85 260.00)" stroke="#000" stroke-width="0.3">CTRL</text>
<g filter="url(#bl)">
<rect x="196.10" y="269.50" width="1.26" height="29.20" fill="#000000"/>
<line x1="196.72" y1="268.50" x2="196.72" y2="269.50" stroke="#000000" stroke-width="0.35"/>
<rect x="197.33" y="276.80" width="1.26" height="21.90" fill="#c81414"/>
<rect x="197.33" y="276.80" width="1.26" height="21.90" fill="#6a0a0a"/>
<line x1="197.94" y1="275.80" x2="197.94" y2="276.80" stroke="#c81414" stroke-width="0.35"/>
<rect x="198.56" y="260.45" width="1.26" height="38.25" fill="#2cbc2c"/>
<line x1="199.18" y1="259.45" x2="199.18" y2="260.45" stroke="#2cbc2c" stroke-width="0.35"/>
<rect x="199.79" y="267.46" width="1.26" height="31.24" fill="#1010d8"/>
<line x1="200.41" y1="266.46" x2="200.41" y2="267.46" stroke="#1010d8" stroke-width="0.35"/>
<rect x="201.02" y="266.58" width="1.26" height="32.12" fill="#10c0f4"/>
<line x1="201.63" y1="265.58" x2="201.63" y2="266.58" stroke="#10c0f4" stroke-width="0.35"/>
<rect x="202.25" y="266.00" width="1.26" height="32.70" fill="#e030e0"/>
<line x1="202.87" y1="265.00" x2="202.87" y2="266.00" stroke="#e030e0" stroke-width="0.35"/>
<rect x="203.48" y="272.13" width="1.26" height="26.57" fill="#9060d8"/>
<line x1="204.09" y1="271.13" x2="204.09" y2="272.13" stroke="#9060d8" stroke-width="0.35"/>
<rect x="207.40" y="269.50" width="1.26" height="29.20" fill="#000000"/>
<line x1="208.02" y1="268.50" x2="208.02" y2="269.50" stroke="#000000" stroke-width="0.35"/>
<rect x="208.63" y="269.50" width="1.26" height="29.20" fill="#c81414"/>
<rect x="208.63" y="269.50" width="1.26" height="29.20" fill="#6a0a0a"/>
<line x1="209.25" y1="268.50" x2="209.25" y2="269.50" stroke="#c81414" stroke-width="0.35"/>
<rect x="209.86" y="259.86" width="1.26" height="38.84" fill="#2cbc2c"/>
<line x1="210.48" y1="258.86" x2="210.48" y2="259.86" stroke="#2cbc2c" stroke-width="0.35"/>
<rect x="211.09" y="275.34" width="1.26" height="23.36" fill="#1010d8"/>
<line x1="211.71" y1="274.34" x2="211.71" y2="275.34" stroke="#1010d8" stroke-width="0.35"/>
<rect x="212.32" y="273.00" width="1.26" height="25.70" fill="#10c0f4"/>
<line x1="212.94" y1="272.00" x2="212.94" y2="273.00" stroke="#10c0f4" stroke-width="0.35"/>
<rect x="213.55" y="266.00" width="1.26" height="32.70" fill="#e030e0"/>
<line x1="214.17" y1="265.00" x2="214.17" y2="266.00" stroke="#e030e0" stroke-width="0.35"/>
<rect x="214.78" y="269.79" width="1.26" height="28.91" fill="#9060d8"/>
<line x1="215.40" y1="268.79" x2="215.40" y2="269.79" stroke="#9060d8" stroke-width="0.35"/>
<rect x="218.70" y="269.50" width="1.26" height="29.20" fill="#000000"/>
<line x1="219.31" y1="268.50" x2="219.31" y2="269.50" stroke="#000000" stroke-width="0.35"/>
<rect x="219.93" y="268.04" width="1.26" height="30.66" fill="#c81414"/>
<rect x="219.93" y="269.50" width="1.26" height="29.20" fill="#6a0a0a"/>
<line x1="220.54" y1="267.04" x2="220.54" y2="268.04" stroke="#c81414" stroke-width="0.35"/>
<rect x="221.16" y="273.00" width="1.26" height="25.70" fill="#2cbc2c"/>
<line x1="221.78" y1="272.00" x2="221.78" y2="273.00" stroke="#2cbc2c" stroke-width="0.35"/>
<rect x="222.39" y="269.50" width="1.26" height="29.20" fill="#1010d8"/>
<line x1="223.00" y1="268.50" x2="223.00" y2="269.50" stroke="#1010d8" stroke-width="0.35"/>
<rect x="223.62" y="266.00" width="1.26" height="32.70" fill="#10c0f4"/>
<line x1="224.23" y1="265.00" x2="224.23" y2="266.00" stroke="#10c0f4" stroke-width="0.35"/>
<rect x="224.85" y="269.79" width="1.26" height="28.91" fill="#e030e0"/>
<line x1="225.47" y1="268.79" x2="225.47" y2="269.79" stroke="#e030e0" stroke-width="0.35"/>
<rect x="226.08" y="273.00" width="1.26" height="25.70" fill="#9060d8"/>
<line x1="226.69" y1="272.00" x2="226.69" y2="273.00" stroke="#9060d8" stroke-width="0.35"/>
<rect x="230.00" y="269.50" width="1.26" height="29.20" fill="#000000"/>
<line x1="230.62" y1="268.50" x2="230.62" y2="269.50" stroke="#000000" stroke-width="0.35"/>
<rect x="231.23" y="241.76" width="1.26" height="56.94" fill="#c81414"/>
<rect x="231.23" y="269.50" width="1.26" height="29.20" fill="#6a0a0a"/>
<line x1="231.84" y1="240.76" x2="231.84" y2="241.76" stroke="#c81414" stroke-width="0.35"/>
<rect x="232.46" y="259.57" width="1.26" height="39.13" fill="#2cbc2c"/>
<line x1="233.08" y1="258.57" x2="233.08" y2="259.57" stroke="#2cbc2c" stroke-width="0.35"/>
<rect x="233.69" y="265.12" width="1.26" height="33.58" fill="#1010d8"/>
<line x1="234.31" y1="264.12" x2="234.31" y2="265.12" stroke="#1010d8" stroke-width="0.35"/>
<rect x="234.92" y="269.50" width="1.26" height="29.20" fill="#10c0f4"/>
<line x1="235.53" y1="268.50" x2="235.53" y2="269.50" stroke="#10c0f4" stroke-width="0.35"/>
<rect x="236.15" y="265.12" width="1.26" height="33.58" fill="#e030e0"/>
<line x1="236.77" y1="264.12" x2="236.77" y2="265.12" stroke="#e030e0" stroke-width="0.35"/>
<rect x="237.38" y="275.92" width="1.26" height="22.78" fill="#9060d8"/>
<line x1="238.00" y1="274.92" x2="238.00" y2="275.92" stroke="#9060d8" stroke-width="0.35"/>
<rect x="241.30" y="269.50" width="1.26" height="29.20" fill="#000000"/>
<line x1="241.92" y1="268.50" x2="241.92" y2="269.50" stroke="#000000" stroke-width="0.35"/>
<rect x="242.53" y="248.77" width="1.26" height="49.93" fill="#c81414"/>
<rect x="242.53" y="269.50" width="1.26" height="29.20" fill="#6a0a0a"/>
<line x1="243.15" y1="247.77" x2="243.15" y2="248.77" stroke="#c81414" stroke-width="0.35"/>
<rect x="243.76" y="271.25" width="1.26" height="27.45" fill="#2cbc2c"/>
<line x1="244.38" y1="270.25" x2="244.38" y2="271.25" stroke="#2cbc2c" stroke-width="0.35"/>
<rect x="244.99" y="249.06" width="1.26" height="49.64" fill="#1010d8"/>
<line x1="245.61" y1="248.06" x2="245.61" y2="249.06" stroke="#1010d8" stroke-width="0.35"/>
<rect x="246.22" y="263.66" width="1.26" height="35.04" fill="#10c0f4"/>
<line x1="246.84" y1="262.66" x2="246.84" y2="263.66" stroke="#10c0f4" stroke-width="0.35"/>
<rect x="247.45" y="264.24" width="1.26" height="34.46" fill="#e030e0"/>
<line x1="248.07" y1="263.24" x2="248.07" y2="264.24" stroke="#e030e0" stroke-width="0.35"/>
<rect x="248.68" y="266.58" width="1.26" height="32.12" fill="#9060d8"/>
<line x1="249.30" y1="265.58" x2="249.30" y2="266.58" stroke="#9060d8" stroke-width="0.35"/>
<rect x="252.60" y="269.50" width="1.26" height="29.20" fill="#000000"/>
<line x1="253.22" y1="268.50" x2="253.22" y2="269.50" stroke="#000000" stroke-width="0.35"/>
<rect x="253.83" y="265.12" width="1.26" height="33.58" fill="#c81414"/>
<rect x="253.83" y="269.50" width="1.26" height="29.20" fill="#6a0a0a"/>
<line x1="254.44" y1="264.12" x2="254.44" y2="265.12" stroke="#c81414" stroke-width="0.35"/>
<rect x="255.06" y="273.00" width="1.26" height="25.70" fill="#2cbc2c"/>
<line x1="255.68" y1="272.00" x2="255.68" y2="273.00" stroke="#2cbc2c" stroke-width="0.35"/>
<rect x="256.29" y="272.42" width="1.26" height="26.28" fill="#1010d8"/>
<line x1="256.91" y1="271.42" x2="256.91" y2="272.42" stroke="#1010d8" stroke-width="0.35"/>
<rect x="257.52" y="273.00" width="1.26" height="25.70" fill="#10c0f4"/>
<line x1="258.13" y1="272.00" x2="258.13" y2="273.00" stroke="#10c0f4" stroke-width="0.35"/>
<rect x="258.75" y="264.24" width="1.26" height="34.46" fill="#e030e0"/>
<line x1="259.37" y1="263.24" x2="259.37" y2="264.24" stroke="#e030e0" stroke-width="0.35"/>
<rect x="259.98" y="268.33" width="1.26" height="30.37" fill="#9060d8"/>
<line x1="260.60" y1="267.33" x2="260.60" y2="268.33" stroke="#9060d8" stroke-width="0.35"/>
<rect x="263.90" y="269.50" width="1.26" height="29.20" fill="#000000"/>
<line x1="264.51" y1="268.50" x2="264.51" y2="269.50" stroke="#000000" stroke-width="0.35"/>
<rect x="265.13" y="241.76" width="1.26" height="56.94" fill="#c81414"/>
<rect x="265.13" y="269.50" width="1.26" height="29.20" fill="#6a0a0a"/>
<line x1="265.75" y1="240.76" x2="265.75" y2="241.76" stroke="#c81414" stroke-width="0.35"/>
<rect x="266.36" y="271.25" width="1.26" height="27.45" fill="#2cbc2c"/>
<line x1="266.97" y1="270.25" x2="266.97" y2="271.25" stroke="#2cbc2c" stroke-width="0.35"/>
<rect x="267.59" y="240.30" width="1.26" height="58.40" fill="#1010d8"/>
<line x1="268.20" y1="239.30" x2="268.20" y2="240.30" stroke="#1010d8" stroke-width="0.35"/>
<rect x="268.82" y="255.78" width="1.26" height="42.92" fill="#10c0f4"/>
<line x1="269.44" y1="254.78" x2="269.44" y2="255.78" stroke="#10c0f4" stroke-width="0.35"/>
<rect x="270.05" y="263.66" width="1.26" height="35.04" fill="#e030e0"/>
<line x1="270.66" y1="262.66" x2="270.66" y2="263.66" stroke="#e030e0" stroke-width="0.35"/>
<rect x="271.28" y="274.46" width="1.26" height="24.24" fill="#9060d8"/>
<line x1="271.89" y1="273.46" x2="271.89" y2="274.46" stroke="#9060d8" stroke-width="0.35"/>
<rect x="275.20" y="269.50" width="1.26" height="29.20" fill="#000000"/>
<line x1="275.81" y1="268.50" x2="275.81" y2="269.50" stroke="#000000" stroke-width="0.35"/>
<rect x="276.43" y="252.56" width="1.26" height="46.14" fill="#c81414"/>
<rect x="276.43" y="269.50" width="1.26" height="29.20" fill="#6a0a0a"/>
<line x1="277.05" y1="251.56" x2="277.05" y2="252.56" stroke="#c81414" stroke-width="0.35"/>
<rect x="277.66" y="267.46" width="1.26" height="31.24" fill="#2cbc2c"/>
<line x1="278.27" y1="266.46" x2="278.27" y2="267.46" stroke="#2cbc2c" stroke-width="0.35"/>
<rect x="278.89" y="241.76" width="1.26" height="56.94" fill="#1010d8"/>
<line x1="279.50" y1="240.76" x2="279.50" y2="241.76" stroke="#1010d8" stroke-width="0.35"/>
<rect x="280.12" y="256.36" width="1.26" height="42.34" fill="#10c0f4"/>
<line x1="280.74" y1="255.36" x2="280.74" y2="256.36" stroke="#10c0f4" stroke-width="0.35"/>
<rect x="281.35" y="268.33" width="1.26" height="30.37" fill="#e030e0"/>
<line x1="281.96" y1="267.33" x2="281.96" y2="268.33" stroke="#e030e0" stroke-width="0.35"/>
<rect x="282.58" y="271.25" width="1.26" height="27.45" fill="#9060d8"/>
<line x1="283.19" y1="270.25" x2="283.19" y2="271.25" stroke="#9060d8" stroke-width="0.35"/>
<rect x="286.50" y="269.50" width="1.26" height="29.20" fill="#000000"/>
<line x1="287.12" y1="268.50" x2="287.12" y2="269.50" stroke="#000000" stroke-width="0.35"/>
<rect x="287.73" y="231.83" width="1.26" height="66.87" fill="#c81414"/>
<rect x="287.73" y="269.50" width="1.26" height="29.20" fill="#6a0a0a"/>
<line x1="288.35" y1="230.83" x2="288.35" y2="231.83" stroke="#c81414" stroke-width="0.35"/>
<rect x="288.96" y="268.33" width="1.26" height="30.37" fill="#2cbc2c"/>
<line x1="289.57" y1="267.33" x2="289.57" y2="268.33" stroke="#2cbc2c" stroke-width="0.35"/>
<rect x="290.19" y="248.77" width="1.26" height="49.93" fill="#1010d8"/>
<line x1="290.81" y1="247.77" x2="290.81" y2="248.77" stroke="#1010d8" stroke-width="0.35"/>
<rect x="291.42" y="266.00" width="1.26" height="32.70" fill="#10c0f4"/>
<line x1="292.04" y1="265.00" x2="292.04" y2="266.00" stroke="#10c0f4" stroke-width="0.35"/>
<rect x="292.65" y="266.58" width="1.26" height="32.12" fill="#e030e0"/>
<line x1="293.26" y1="265.58" x2="293.26" y2="266.58" stroke="#e030e0" stroke-width="0.35"/>
<rect x="293.88" y="269.50" width="1.26" height="29.20" fill="#9060d8"/>
<line x1="294.50" y1="268.50" x2="294.50" y2="269.50" stroke="#9060d8" stroke-width="0.35"/>
<rect x="297.80" y="269.50" width="1.26" height="29.20" fill="#000000"/>
<line x1="298.42" y1="268.50" x2="298.42" y2="269.50" stroke="#000000" stroke-width="0.35"/>
<rect x="299.03" y="249.64" width="1.26" height="49.06" fill="#c81414"/>
<rect x="299.03" y="269.50" width="1.26" height="29.20" fill="#6a0a0a"/>
<line x1="299.65" y1="248.64" x2="299.65" y2="249.64" stroke="#c81414" stroke-width="0.35"/>
<rect x="300.26" y="265.12" width="1.26" height="33.58" fill="#2cbc2c"/>
<line x1="300.88" y1="264.12" x2="300.88" y2="265.12" stroke="#2cbc2c" stroke-width="0.35"/>
<rect x="301.49" y="230.08" width="1.26" height="68.62" fill="#1010d8"/>
<line x1="302.11" y1="229.08" x2="302.11" y2="230.08" stroke="#1010d8" stroke-width="0.35"/>
<rect x="302.72" y="268.33" width="1.26" height="30.37" fill="#10c0f4"/>
<line x1="303.34" y1="267.33" x2="303.34" y2="268.33" stroke="#10c0f4" stroke-width="0.35"/>
<rect x="303.95" y="274.46" width="1.26" height="24.24" fill="#e030e0"/>
<line x1="304.56" y1="273.46" x2="304.56" y2="274.46" stroke="#e030e0" stroke-width="0.35"/>
<rect x="305.18" y="272.42" width="1.26" height="26.28" fill="#9060d8"/>
<line x1="305.80" y1="271.42" x2="305.80" y2="272.42" stroke="#9060d8" stroke-width="0.35"/>
<rect x="309.10" y="269.50" width="1.26" height="29.20" fill="#000000"/>
<line x1="309.72" y1="268.50" x2="309.72" y2="269.50" stroke="#000000" stroke-width="0.35"/>
<rect x="310.33" y="250.81" width="1.26" height="47.89" fill="#c81414"/>
<rect x="310.33" y="269.50" width="1.26" height="29.20" fill="#6a0a0a"/>
<line x1="310.95" y1="249.81" x2="310.95" y2="250.81" stroke="#c81414" stroke-width="0.35"/>
<rect x="311.56" y="269.50" width="1.26" height="29.20" fill="#2cbc2c"/>
<line x1="312.18" y1="268.50" x2="312.18" y2="269.50" stroke="#2cbc2c" stroke-width="0.35"/>
<rect x="312.79" y="256.36" width="1.26" height="42.34" fill="#1010d8"/>
<line x1="313.41" y1="255.36" x2="313.41" y2="256.36" stroke="#1010d8" stroke-width="0.35"/>
<rect x="314.02" y="270.67" width="1.26" height="28.03" fill="#10c0f4"/>
<line x1="314.64" y1="269.67" x2="314.64" y2="270.67" stroke="#10c0f4" stroke-width="0.35"/>
<rect x="315.25" y="268.33" width="1.26" height="30.37" fill="#e030e0"/>
<line x1="315.87" y1="267.33" x2="315.87" y2="268.33" stroke="#e030e0" stroke-width="0.35"/>
<rect x="316.48" y="272.42" width="1.26" height="26.28" fill="#9060d8"/>
<line x1="317.10" y1="271.42" x2="317.10" y2="272.42" stroke="#9060d8" stroke-width="0.35"/>
</g>
<line x1="195.50" y1="210.80" x2="195.50" y2="299.00" stroke="#000" stroke-width="0.7"/>
<line x1="195.20" y1="298.70" x2="319.20" y2="298.70" stroke="#000" stroke-width="0.8"/>
<line x1="194.00" y1="298.70" x2="195.50" y2="298.70" stroke="#000" stroke-width="0.6"/>
<text x="193.00" y="300.05" font-size="3.8px" font-weight="bold" font-style="normal" text-anchor="end" fill="#000" stroke="#000" stroke-width="0.3">0.0</text>
<line x1="194.00" y1="284.10" x2="195.50" y2="284.10" stroke="#000" stroke-width="0.6"/>
<text x="193.00" y="285.45" font-size="3.8px" font-weight="bold" font-style="normal" text-anchor="end" fill="#000" stroke="#000" stroke-width="0.3">0.5</text>
<line x1="194.00" y1="269.50" x2="195.50" y2="269.50" stroke="#000" stroke-width="0.6"/>
<text x="193.00" y="270.85" font-size="3.8px" font-weight="bold" font-style="normal" text-anchor="end" fill="#000" stroke="#000" stroke-width="0.3">1.0</text>
<line x1="194.00" y1="254.90" x2="195.50" y2="254.90" stroke="#000" stroke-width="0.6"/>
<text x="193.00" y="256.25" font-size="3.8px" font-weight="bold" font-style="normal" text-anchor="end" fill="#000" stroke="#000" stroke-width="0.3">1.5</text>
<line x1="194.00" y1="240.30" x2="195.50" y2="240.30" stroke="#000" stroke-width="0.6"/>
<text x="193.00" y="241.65" font-size="3.8px" font-weight="bold" font-style="normal" text-anchor="end" fill="#000" stroke="#000" stroke-width="0.3">2.0</text>
<line x1="194.00" y1="225.70" x2="195.50" y2="225.70" stroke="#000" stroke-width="0.6"/>
<text x="193.00" y="227.05" font-size="3.8px" font-weight="bold" font-style="normal" text-anchor="end" fill="#000" stroke="#000" stroke-width="0.3">2.5</text>
<line x1="194.00" y1="211.10" x2="195.50" y2="211.10" stroke="#000" stroke-width="0.6"/>
<text x="193.00" y="212.45" font-size="3.8px" font-weight="bold" font-style="normal" text-anchor="end" fill="#000" stroke="#000" stroke-width="0.3">3.0</text>
<text x="197.20" y="207.80" font-size="4.0px" font-weight="bold" font-style="normal" text-anchor="start" fill="#000" stroke="#000" stroke-width="0.3">BN41</text>
<text x="202.15" y="305.10" font-size="5.0px" font-weight="bold" font-style="italic" text-anchor="end" fill="#000" transform="rotate(-90 202.15 305.10)" stroke="#000" stroke-width="0.3">CDH1</text>
<text x="213.45" y="305.10" font-size="5.0px" font-weight="bold" font-style="italic" text-anchor="end" fill="#000" transform="rotate(-90 213.45 305.10)" stroke="#000" stroke-width="0.3">CLDN4</text>
<text x="224.75" y="305.10" font-size="5.0px" font-weight="bold" font-style="italic" text-anchor="end" fill="#000" transform="rotate(-90 224.75 305.10)" stroke="#000" stroke-width="0.3">CLDN7</text>
<text x="236.05" y="305.10" font-size="5.0px" font-weight="bold" font-style="italic" text-anchor="end" fill="#000" transform="rotate(-90 236.05 305.10)" stroke="#000" stroke-width="0.3">TWIST1</text>
<text x="247.35" y="305.10" font-size="5.0px" font-weight="bold" font-style="italic" text-anchor="end" fill="#000" transform="rotate(-90 247.35 305.10)" stroke="#000" stroke-width="0.3">TWIST2</text>
<text x="258.65" y="305.10" font-size="5.0px" font-weight="bold" font-style="italic" text-anchor="end" fill="#000" transform="rotate(-90 258.65 305.10)" stroke="#000" stroke-width="0.3">SNAL1</text>
<text x="269.95" y="305.10" font-size="5.0px" font-weight="bold" font-style="italic" text-anchor="end" fill="#000" transform="rotate(-90 269.95 305.10)" stroke="#000" stroke-width="0.3">SNAL2</text>
<text x="281.25" y="305.10" font-size="5.0px" font-weight="bold" font-style="italic" text-anchor="end" fill="#000" transform="rotate(-90 281.25 305.10)" stroke="#000" stroke-width="0.3">VIM</text>
<text x="292.55" y="305.10" font-size="5.0px" font-weight="bold" font-style="italic" text-anchor="end" fill="#000" transform="rotate(-90 292.55 305.10)" stroke="#000" stroke-width="0.3">FN1</text>
<text x="303.85" y="305.10" font-size="5.0px" font-weight="bold" font-style="italic" text-anchor="end" fill="#000" transform="rotate(-90 303.85 305.10)" stroke="#000" stroke-width="0.3">HES1</text>
<text x="315.15" y="305.10" font-size="5.0px" font-weight="bold" font-style="italic" text-anchor="end" fill="#000" transform="rotate(-90 315.15 305.10)" stroke="#000" stroke-width="0.3">HEY1</text>
<text x="174.65" y="260.00" font-size="3.8px" font-weight="bold" font-style="normal" text-anchor="middle" fill="#000" transform="rotate(-90 174.65 260.00)" stroke="#000" stroke-width="0.3">Relative quantity vs.</text>
<text x="180.15" y="260.00" font-size="3.4px" font-weight="bold" font-style="normal" text-anchor="middle" fill="#000" transform="rotate(-90 180.15 260.00)" stroke="#000" stroke-width="0.3">CTRL</text>
<g filter="url(#bl)">
<rect x="359.85" y="268.90" width="1.26" height="29.20" fill="#000000"/>
<line x1="360.47" y1="267.90" x2="360.47" y2="268.90" stroke="#000000" stroke-width="0.35"/>
<rect x="361.08" y="265.69" width="1.26" height="32.41" fill="#c81414"/>
<rect x="361.08" y="268.90" width="1.26" height="29.20" fill="#6a0a0a"/>
<line x1="361.70" y1="264.69" x2="361.70" y2="265.69" stroke="#c81414" stroke-width="0.35"/>
<rect x="362.31" y="264.23" width="1.26" height="33.87" fill="#2cbc2c"/>
<line x1="362.93" y1="263.23" x2="362.93" y2="264.23" stroke="#2cbc2c" stroke-width="0.35"/>
<rect x="363.54" y="264.81" width="1.26" height="33.29" fill="#1010d8"/>
<line x1="364.16" y1="263.81" x2="364.16" y2="264.81" stroke="#1010d8" stroke-width="0.35"/>
<rect x="364.77" y="268.90" width="1.26" height="29.20" fill="#10c0f4"/>
<line x1="365.39" y1="267.90" x2="365.39" y2="268.90" stroke="#10c0f4" stroke-width="0.35"/>
<rect x="366.00" y="267.15" width="1.26" height="30.95" fill="#e030e0"/>
<line x1="366.62" y1="266.15" x2="366.62" y2="267.15" stroke="#e030e0" stroke-width="0.35"/>
<rect x="367.23" y="269.78" width="1.26" height="28.32" fill="#9060d8"/>
<line x1="367.85" y1="268.78" x2="367.85" y2="269.78" stroke="#9060d8" stroke-width="0.35"/>
<rect x="371.08" y="268.90" width="1.26" height="29.20" fill="#000000"/>
<line x1="371.70" y1="267.90" x2="371.70" y2="268.90" stroke="#000000" stroke-width="0.35"/>
<rect x="372.31" y="264.81" width="1.26" height="33.29" fill="#c81414"/>
<rect x="372.31" y="268.90" width="1.26" height="29.20" fill="#6a0a0a"/>
<line x1="372.93" y1="263.81" x2="372.93" y2="264.81" stroke="#c81414" stroke-width="0.35"/>
<rect x="373.54" y="267.15" width="1.26" height="30.95" fill="#2cbc2c"/>
<line x1="374.16" y1="266.15" x2="374.16" y2="267.15" stroke="#2cbc2c" stroke-width="0.35"/>
<rect x="374.77" y="270.94" width="1.26" height="27.16" fill="#1010d8"/>
<line x1="375.39" y1="269.94" x2="375.39" y2="270.94" stroke="#1010d8" stroke-width="0.35"/>
<rect x="376.00" y="272.40" width="1.26" height="25.70" fill="#10c0f4"/>
<line x1="376.62" y1="271.40" x2="376.62" y2="272.40" stroke="#10c0f4" stroke-width="0.35"/>
<rect x="377.23" y="265.69" width="1.26" height="32.41" fill="#e030e0"/>
<line x1="377.85" y1="264.69" x2="377.85" y2="265.69" stroke="#e030e0" stroke-width="0.35"/>
<rect x="378.46" y="266.56" width="1.26" height="31.54" fill="#9060d8"/>
<line x1="379.08" y1="265.56" x2="379.08" y2="266.56" stroke="#9060d8" stroke-width="0.35"/>
<rect x="382.31" y="268.90" width="1.26" height="29.20" fill="#000000"/>
<line x1="382.93" y1="267.90" x2="382.93" y2="268.90" stroke="#000000" stroke-width="0.35"/>
<rect x="383.54" y="271.24" width="1.26" height="26.86" fill="#c81414"/>
<rect x="383.54" y="271.24" width="1.26" height="26.86" fill="#6a0a0a"/>
<line x1="384.16" y1="270.24" x2="384.16" y2="271.24" stroke="#c81414" stroke-width="0.35"/>
<rect x="384.77" y="262.48" width="1.26" height="35.62" fill="#2cbc2c"/>
<line x1="385.38" y1="261.48" x2="385.38" y2="262.48" stroke="#2cbc2c" stroke-width="0.35"/>
<rect x="386.00" y="273.86" width="1.26" height="24.24" fill="#1010d8"/>
<line x1="386.62" y1="272.86" x2="386.62" y2="273.86" stroke="#1010d8" stroke-width="0.35"/>
<rect x="387.23" y="272.40" width="1.26" height="25.70" fill="#10c0f4"/>
<line x1="387.85" y1="271.40" x2="387.85" y2="272.40" stroke="#10c0f4" stroke-width="0.35"/>
<rect x="388.46" y="263.94" width="1.26" height="34.16" fill="#e030e0"/>
<line x1="389.07" y1="262.94" x2="389.07" y2="263.94" stroke="#e030e0" stroke-width="0.35"/>
<rect x="389.69" y="268.02" width="1.26" height="30.08" fill="#9060d8"/>
<line x1="390.31" y1="267.02" x2="390.31" y2="268.02" stroke="#9060d8" stroke-width="0.35"/>
<rect x="393.54" y="268.90" width="1.26" height="29.20" fill="#000000"/>
<line x1="394.16" y1="267.90" x2="394.16" y2="268.90" stroke="#000000" stroke-width="0.35"/>
<rect x="394.77" y="226.56" width="1.26" height="71.54" fill="#c81414"/>
<rect x="394.77" y="268.90" width="1.26" height="29.20" fill="#6a0a0a"/>
<line x1="395.39" y1="225.56" x2="395.39" y2="226.56" stroke="#c81414" stroke-width="0.35"/>
<rect x="396.00" y="265.98" width="1.26" height="32.12" fill="#2cbc2c"/>
<line x1="396.62" y1="264.98" x2="396.62" y2="265.98" stroke="#2cbc2c" stroke-width="0.35"/>
<rect x="397.23" y="258.39" width="1.26" height="39.71" fill="#1010d8"/>
<line x1="397.85" y1="257.39" x2="397.85" y2="258.39" stroke="#1010d8" stroke-width="0.35"/>
<rect x="398.46" y="260.72" width="1.26" height="37.38" fill="#10c0f4"/>
<line x1="399.08" y1="259.72" x2="399.08" y2="260.72" stroke="#10c0f4" stroke-width="0.35"/>
<rect x="399.69" y="265.40" width="1.26" height="32.70" fill="#e030e0"/>
<line x1="400.31" y1="264.40" x2="400.31" y2="265.40" stroke="#e030e0" stroke-width="0.35"/>
<rect x="400.92" y="271.24" width="1.26" height="26.86" fill="#9060d8"/>
<line x1="401.54" y1="270.24" x2="401.54" y2="271.24" stroke="#9060d8" stroke-width="0.35"/>
<rect x="404.77" y="268.90" width="1.26" height="29.20" fill="#000000"/>
<line x1="405.39" y1="267.90" x2="405.39" y2="268.90" stroke="#000000" stroke-width="0.35"/>
<rect x="406.00" y="263.94" width="1.26" height="34.16" fill="#c81414"/>
<rect x="406.00" y="268.90" width="1.26" height="29.20" fill="#6a0a0a"/>
<line x1="406.62" y1="262.94" x2="406.62" y2="263.94" stroke="#c81414" stroke-width="0.35"/>
<rect x="407.23" y="269.48" width="1.26" height="28.62" fill="#2cbc2c"/>
<line x1="407.85" y1="268.48" x2="407.85" y2="269.48" stroke="#2cbc2c" stroke-width="0.35"/>
<rect x="408.46" y="256.05" width="1.26" height="42.05" fill="#1010d8"/>
<line x1="409.08" y1="255.05" x2="409.08" y2="256.05" stroke="#1010d8" stroke-width="0.35"/>
<rect x="409.69" y="262.18" width="1.26" height="35.92" fill="#10c0f4"/>
<line x1="410.31" y1="261.18" x2="410.31" y2="262.18" stroke="#10c0f4" stroke-width="0.35"/>
<rect x="410.92" y="266.27" width="1.26" height="31.83" fill="#e030e0"/>
<line x1="411.54" y1="265.27" x2="411.54" y2="266.27" stroke="#e030e0" stroke-width="0.35"/>
<rect x="412.15" y="266.86" width="1.26" height="31.24" fill="#9060d8"/>
<line x1="412.77" y1="265.86" x2="412.77" y2="266.86" stroke="#9060d8" stroke-width="0.35"/>
<rect x="416.00" y="268.90" width="1.26" height="29.20" fill="#000000"/>
<line x1="416.62" y1="267.90" x2="416.62" y2="268.90" stroke="#000000" stroke-width="0.35"/>
<rect x="417.23" y="268.32" width="1.26" height="29.78" fill="#c81414"/>
<rect x="417.23" y="268.90" width="1.26" height="29.20" fill="#6a0a0a"/>
<line x1="417.85" y1="267.32" x2="417.85" y2="268.32" stroke="#c81414" stroke-width="0.35"/>
<rect x="418.46" y="269.48" width="1.26" height="28.62" fill="#2cbc2c"/>
<line x1="419.07" y1="268.48" x2="419.07" y2="269.48" stroke="#2cbc2c" stroke-width="0.35"/>
<rect x="419.69" y="270.07" width="1.26" height="28.03" fill="#1010d8"/>
<line x1="420.31" y1="269.07" x2="420.31" y2="270.07" stroke="#1010d8" stroke-width="0.35"/>
<rect x="420.92" y="268.32" width="1.26" height="29.78" fill="#10c0f4"/>
<line x1="421.54" y1="267.32" x2="421.54" y2="268.32" stroke="#10c0f4" stroke-width="0.35"/>
<rect x="422.15" y="267.44" width="1.26" height="30.66" fill="#e030e0"/>
<line x1="422.76" y1="266.44" x2="422.76" y2="267.44" stroke="#e030e0" stroke-width="0.35"/>
<rect x="423.38" y="270.36" width="1.26" height="27.74" fill="#9060d8"/>
<line x1="424.00" y1="269.36" x2="424.00" y2="270.36" stroke="#9060d8" stroke-width="0.35"/>
<rect x="427.23" y="268.90" width="1.26" height="29.20" fill="#000000"/>
<line x1="427.85" y1="267.90" x2="427.85" y2="268.90" stroke="#000000" stroke-width="0.35"/>
<rect x="428.46" y="238.24" width="1.26" height="59.86" fill="#c81414"/>
<rect x="428.46" y="268.90" width="1.26" height="29.20" fill="#6a0a0a"/>
<line x1="429.08" y1="237.24" x2="429.08" y2="238.24" stroke="#c81414" stroke-width="0.35"/>
<rect x="429.69" y="268.90" width="1.26" height="29.20" fill="#2cbc2c"/>
<line x1="430.31" y1="267.90" x2="430.31" y2="268.90" stroke="#2cbc2c" stroke-width="0.35"/>
<rect x="430.92" y="218.97" width="1.26" height="79.13" fill="#1010d8"/>
<line x1="431.54" y1="217.97" x2="431.54" y2="218.97" stroke="#1010d8" stroke-width="0.35"/>
<rect x="432.15" y="242.62" width="1.26" height="55.48" fill="#10c0f4"/>
<line x1="432.77" y1="241.62" x2="432.77" y2="242.62" stroke="#10c0f4" stroke-width="0.35"/>
<rect x="433.38" y="269.78" width="1.26" height="28.32" fill="#e030e0"/>
<line x1="434.00" y1="268.78" x2="434.00" y2="269.78" stroke="#e030e0" stroke-width="0.35"/>
<rect x="434.61" y="266.86" width="1.26" height="31.24" fill="#9060d8"/>
<line x1="435.23" y1="265.86" x2="435.23" y2="266.86" stroke="#9060d8" stroke-width="0.35"/>
<rect x="438.46" y="268.90" width="1.26" height="29.20" fill="#000000"/>
<line x1="439.08" y1="267.90" x2="439.08" y2="268.90" stroke="#000000" stroke-width="0.35"/>
<rect x="439.69" y="255.18" width="1.26" height="42.92" fill="#c81414"/>
<rect x="439.69" y="268.90" width="1.26" height="29.20" fill="#6a0a0a"/>
<line x1="440.31" y1="254.18" x2="440.31" y2="255.18" stroke="#c81414" stroke-width="0.35"/>
<rect x="440.92" y="266.86" width="1.26" height="31.24" fill="#2cbc2c"/>
<line x1="441.54" y1="265.86" x2="441.54" y2="266.86" stroke="#2cbc2c" stroke-width="0.35"/>
<rect x="442.15" y="249.92" width="1.26" height="48.18" fill="#1010d8"/>
<line x1="442.77" y1="248.92" x2="442.77" y2="249.92" stroke="#1010d8" stroke-width="0.35"/>
<rect x="443.38" y="255.76" width="1.26" height="42.34" fill="#10c0f4"/>
<line x1="444.00" y1="254.76" x2="444.00" y2="255.76" stroke="#10c0f4" stroke-width="0.35"/>
<rect x="444.61" y="268.90" width="1.26" height="29.20" fill="#e030e0"/>
<line x1="445.23" y1="267.90" x2="445.23" y2="268.90" stroke="#e030e0" stroke-width="0.35"/>
<rect x="445.84" y="268.32" width="1.26" height="29.78" fill="#9060d8"/>
<line x1="446.46" y1="267.32" x2="446.46" y2="268.32" stroke="#9060d8" stroke-width="0.35"/>
<rect x="449.69" y="268.90" width="1.26" height="29.20" fill="#000000"/>
<line x1="450.31" y1="267.90" x2="450.31" y2="268.90" stroke="#000000" stroke-width="0.35"/>
<rect x="450.92" y="244.37" width="1.26" height="53.73" fill="#c81414"/>
<rect x="450.92" y="268.90" width="1.26" height="29.20" fill="#6a0a0a"/>
<line x1="451.54" y1="243.37" x2="451.54" y2="244.37" stroke="#c81414" stroke-width="0.35"/>
<rect x="452.15" y="265.40" width="1.26" height="32.70" fill="#2cbc2c"/>
<line x1="452.77" y1="264.40" x2="452.77" y2="265.40" stroke="#2cbc2c" stroke-width="0.35"/>
<rect x="453.38" y="256.93" width="1.26" height="41.17" fill="#1010d8"/>
<line x1="454.00" y1="255.93" x2="454.00" y2="256.93" stroke="#1010d8" stroke-width="0.35"/>
<rect x="454.61" y="258.97" width="1.26" height="39.13" fill="#10c0f4"/>
<line x1="455.23" y1="257.97" x2="455.23" y2="258.97" stroke="#10c0f4" stroke-width="0.35"/>
<rect x="455.84" y="263.94" width="1.26" height="34.16" fill="#e030e0"/>
<line x1="456.46" y1="262.94" x2="456.46" y2="263.94" stroke="#e030e0" stroke-width="0.35"/>
<rect x="457.07" y="265.40" width="1.26" height="32.70" fill="#9060d8"/>
<line x1="457.69" y1="264.40" x2="457.69" y2="265.40" stroke="#9060d8" stroke-width="0.35"/>
<rect x="460.92" y="268.90" width="1.26" height="29.20" fill="#000000"/>
<line x1="461.54" y1="267.90" x2="461.54" y2="268.90" stroke="#000000" stroke-width="0.35"/>
<rect x="462.15" y="246.12" width="1.26" height="51.98" fill="#c81414"/>
<rect x="462.15" y="268.90" width="1.26" height="29.20" fill="#6a0a0a"/>
<line x1="462.77" y1="245.12" x2="462.77" y2="246.12" stroke="#c81414" stroke-width="0.35"/>
<rect x="463.38" y="271.53" width="1.26" height="26.57" fill="#2cbc2c"/>
<line x1="464.00" y1="270.53" x2="464.00" y2="271.53" stroke="#2cbc2c" stroke-width="0.35"/>
<rect x="464.61" y="239.70" width="1.26" height="58.40" fill="#1010d8"/>
<line x1="465.23" y1="238.70" x2="465.23" y2="239.70" stroke="#1010d8" stroke-width="0.35"/>
<rect x="465.84" y="268.32" width="1.26" height="29.78" fill="#10c0f4"/>
<line x1="466.46" y1="267.32" x2="466.46" y2="268.32" stroke="#10c0f4" stroke-width="0.35"/>
<rect x="467.07" y="268.90" width="1.26" height="29.20" fill="#e030e0"/>
<line x1="467.69" y1="267.90" x2="467.69" y2="268.90" stroke="#e030e0" stroke-width="0.35"/>
<rect x="468.30" y="273.86" width="1.26" height="24.24" fill="#9060d8"/>
<line x1="468.92" y1="272.86" x2="468.92" y2="273.86" stroke="#9060d8" stroke-width="0.35"/>
<rect x="472.15" y="268.90" width="1.26" height="29.20" fill="#000000"/>
<line x1="472.77" y1="267.90" x2="472.77" y2="268.90" stroke="#000000" stroke-width="0.35"/>
<rect x="473.38" y="242.91" width="1.26" height="55.19" fill="#c81414"/>
<rect x="473.38" y="268.90" width="1.26" height="29.20" fill="#6a0a0a"/>
<line x1="474.00" y1="241.91" x2="474.00" y2="242.91" stroke="#c81414" stroke-width="0.35"/>
<rect x="474.61" y="272.99" width="1.26" height="25.11" fill="#2cbc2c"/>
<line x1="475.23" y1="271.99" x2="475.23" y2="272.99" stroke="#2cbc2c" stroke-width="0.35"/>
<rect x="475.84" y="243.79" width="1.26" height="54.31" fill="#1010d8"/>
<line x1="476.46" y1="242.79" x2="476.46" y2="243.79" stroke="#1010d8" stroke-width="0.35"/>
<rect x="477.07" y="265.40" width="1.26" height="32.70" fill="#10c0f4"/>
<line x1="477.69" y1="264.40" x2="477.69" y2="265.40" stroke="#10c0f4" stroke-width="0.35"/>
<rect x="478.30" y="269.78" width="1.26" height="28.32" fill="#e030e0"/>
<line x1="478.92" y1="268.78" x2="478.92" y2="269.78" stroke="#e030e0" stroke-width="0.35"/>
<rect x="479.53" y="261.60" width="1.26" height="36.50" fill="#9060d8"/>
<line x1="480.15" y1="260.60" x2="480.15" y2="261.60" stroke="#9060d8" stroke-width="0.35"/>
</g>
<line x1="358.30" y1="210.20" x2="358.30" y2="298.40" stroke="#000" stroke-width="0.7"/>
<line x1="358.00" y1="298.10" x2="482.25" y2="298.10" stroke="#000" stroke-width="0.8"/>
<line x1="356.80" y1="298.10" x2="358.30" y2="298.10" stroke="#000" stroke-width="0.6"/>
<text x="355.80" y="299.45" font-size="3.8px" font-weight="bold" font-style="normal" text-anchor="end" fill="#000" stroke="#000" stroke-width="0.3">0.0</text>
<line x1="356.80" y1="283.50" x2="358.30" y2="283.50" stroke="#000" stroke-width="0.6"/>
<text x="355.80" y="284.85" font-size="3.8px" font-weight="bold" font-style="normal" text-anchor="end" fill="#000" stroke="#000" stroke-width="0.3">0.5</text>
<line x1="356.80" y1="268.90" x2="358.30" y2="268.90" stroke="#000" stroke-width="0.6"/>
<text x="355.80" y="270.25" font-size="3.8px" font-weight="bold" font-style="normal" text-anchor="end" fill="#000" stroke="#000" stroke-width="0.3">1.0</text>
<line x1="356.80" y1="254.30" x2="358.30" y2="254.30" stroke="#000" stroke-width="0.6"/>
<text x="355.80" y="255.65" font-size="3.8px" font-weight="bold" font-style="normal" text-anchor="end" fill="#000" stroke="#000" stroke-width="0.3">1.5</text>
<line x1="356.80" y1="239.70" x2="358.30" y2="239.70" stroke="#000" stroke-width="0.6"/>
<text x="355.80" y="241.05" font-size="3.8px" font-weight="bold" font-style="normal" text-anchor="end" fill="#000" stroke="#000" stroke-width="0.3">2.0</text>
<line x1="356.80" y1="225.10" x2="358.30" y2="225.10" stroke="#000" stroke-width="0.6"/>
<text x="355.80" y="226.45" font-size="3.8px" font-weight="bold" font-style="normal" text-anchor="end" fill="#000" stroke="#000" stroke-width="0.3">2.5</text>
<line x1="356.80" y1="210.50" x2="358.30" y2="210.50" stroke="#000" stroke-width="0.6"/>
<text x="355.80" y="211.85" font-size="3.8px" font-weight="bold" font-style="normal" text-anchor="end" fill="#000" stroke="#000" stroke-width="0.3">3.0</text>
<text x="360.00" y="207.20" font-size="4.0px" font-weight="bold" font-style="normal" text-anchor="start" fill="#000" stroke="#000" stroke-width="0.3">BN55</text>
<text x="365.90" y="304.50" font-size="5.0px" font-weight="bold" font-style="italic" text-anchor="end" fill="#000" transform="rotate(-90 365.90 304.50)" stroke="#000" stroke-width="0.3">CDH1</text>
<text x="377.13" y="304.50" font-size="5.0px" font-weight="bold" font-style="italic" text-anchor="end" fill="#000" transform="rotate(-90 377.13 304.50)" stroke="#000" stroke-width="0.3">CLDN4</text>
<text x="388.36" y="304.50" font-size="5.0px" font-weight="bold" font-style="italic" text-anchor="end" fill="#000" transform="rotate(-90 388.36 304.50)" stroke="#000" stroke-width="0.3">CLDN7</text>
<text x="399.59" y="304.50" font-size="5.0px" font-weight="bold" font-style="italic" text-anchor="end" fill="#000" transform="rotate(-90 399.59 304.50)" stroke="#000" stroke-width="0.3">TWIST1</text>
<text x="410.82" y="304.50" font-size="5.0px" font-weight="bold" font-style="italic" text-anchor="end" fill="#000" transform="rotate(-90 410.82 304.50)" stroke="#000" stroke-width="0.3">TWIST2</text>
<text x="422.05" y="304.50" font-size="5.0px" font-weight="bold" font-style="italic" text-anchor="end" fill="#000" transform="rotate(-90 422.05 304.50)" stroke="#000" stroke-width="0.3">SNAL1</text>
<text x="433.28" y="304.50" font-size="5.0px" font-weight="bold" font-style="italic" text-anchor="end" fill="#000" transform="rotate(-90 433.28 304.50)" stroke="#000" stroke-width="0.3">SNAL2</text>
<text x="444.51" y="304.50" font-size="5.0px" font-weight="bold" font-style="italic" text-anchor="end" fill="#000" transform="rotate(-90 444.51 304.50)" stroke="#000" stroke-width="0.3">VIM</text>
<text x="455.74" y="304.50" font-size="5.0px" font-weight="bold" font-style="italic" text-anchor="end" fill="#000" transform="rotate(-90 455.74 304.50)" stroke="#000" stroke-width="0.3">FN1</text>
<text x="466.97" y="304.50" font-size="5.0px" font-weight="bold" font-style="italic" text-anchor="end" fill="#000" transform="rotate(-90 466.97 304.50)" stroke="#000" stroke-width="0.3">HES1</text>
<text x="478.20" y="304.50" font-size="5.0px" font-weight="bold" font-style="italic" text-anchor="end" fill="#000" transform="rotate(-90 478.20 304.50)" stroke="#000" stroke-width="0.3">HEY1</text>
<text x="338.25" y="260.00" font-size="3.8px" font-weight="bold" font-style="normal" text-anchor="middle" fill="#000" transform="rotate(-90 338.25 260.00)" stroke="#000" stroke-width="0.3">Relative quantity vs.</text>
<text x="343.75" y="260.00" font-size="3.4px" font-weight="bold" font-style="normal" text-anchor="middle" fill="#000" transform="rotate(-90 343.75 260.00)" stroke="#000" stroke-width="0.3">CTRL</text>
<circle cx="71.9" cy="269.2" r="0.5" fill="#000"/>
<circle cx="71.9" cy="275.0" r="0.5" fill="#000"/>
<circle cx="81.5" cy="262.5" r="0.5" fill="#000"/>
<circle cx="84.0" cy="263.8" r="0.5" fill="#000"/>
<circle cx="83.0" cy="275.0" r="0.5" fill="#000"/>
<circle cx="95.6" cy="267.7" r="0.5" fill="#000"/>
<circle cx="105.8" cy="269.2" r="0.5" fill="#000"/>
<circle cx="116.7" cy="268.3" r="0.5" fill="#000"/>
<circle cx="128.3" cy="265.0" r="0.5" fill="#000"/>
<circle cx="138.8" cy="273.0" r="0.5" fill="#000"/>
<circle cx="150.4" cy="275.0" r="0.5" fill="#000"/>
<circle cx="150.4" cy="268.3" r="0.5" fill="#000"/>
<circle cx="147.8" cy="226.0" r="0.5" fill="#000"/>
<circle cx="238.0" cy="272.5" r="0.5" fill="#000"/>
<circle cx="249.5" cy="268.0" r="0.5" fill="#000"/>
<circle cx="260.5" cy="269.5" r="0.5" fill="#000"/>
<circle cx="271.5" cy="268.5" r="0.5" fill="#000"/>
<circle cx="271.5" cy="273.0" r="0.5" fill="#000"/>
<circle cx="283.0" cy="269.0" r="0.5" fill="#000"/>
<circle cx="291.5" cy="262.0" r="0.5" fill="#000"/>
<circle cx="292.5" cy="266.0" r="0.5" fill="#000"/>
<circle cx="293.5" cy="269.0" r="0.5" fill="#000"/>
<circle cx="305.5" cy="270.0" r="0.5" fill="#000"/>
<circle cx="306.5" cy="273.0" r="0.5" fill="#000"/>
<circle cx="316.5" cy="269.5" r="0.5" fill="#000"/>
<circle cx="397.5" cy="261.5" r="0.5" fill="#000"/>
<circle cx="399.0" cy="261.5" r="0.5" fill="#000"/>
<circle cx="400.5" cy="261.5" r="0.5" fill="#000"/>
<circle cx="401.5" cy="268.0" r="0.5" fill="#000"/>
<circle cx="435.0" cy="265.0" r="0.5" fill="#000"/>
<circle cx="436.0" cy="268.5" r="0.5" fill="#000"/>
<circle cx="446.5" cy="267.5" r="0.5" fill="#000"/>
<circle cx="457.5" cy="267.5" r="0.5" fill="#000"/>
<circle cx="466.0" cy="266.5" r="0.5" fill="#000"/>
<circle cx="468.5" cy="268.5" r="0.5" fill="#000"/>
<circle cx="470.0" cy="270.0" r="0.5" fill="#000"/>
<circle cx="479.5" cy="263.0" r="0.5" fill="#000"/>
<circle cx="479.5" cy="267.0" r="0.5" fill="#000"/>
<rect x="486.5" y="205.30" width="7.7" height="3.8" fill="#000000"/>
<text x="495.60" y="208.40" font-size="3.5px" font-weight="bold" font-style="normal" text-anchor="start" fill="#000" stroke="#000" stroke-width="0.3">Vehicle</text>
<rect x="486.5" y="209.87" width="7.7" height="3.8" fill="#ff0000"/>
<text x="495.60" y="212.97" font-size="3.5px" font-weight="bold" font-style="normal" text-anchor="start" fill="#000" stroke="#000" stroke-width="0.3">Panitumumab</text>
<rect x="486.5" y="214.44" width="7.7" height="3.8" fill="#00ee00"/>
<text x="495.60" y="217.54" font-size="3.5px" font-weight="bold" font-style="normal" text-anchor="start" fill="#000" stroke="#000" stroke-width="0.3">Tarextumab</text>
<rect x="486.5" y="219.01" width="7.7" height="3.8" fill="#0000cc"/>
<text x="495.60" y="222.11" font-size="3.5px" font-weight="bold" font-style="normal" text-anchor="start" fill="#000" stroke="#000" stroke-width="0.3">MEDH7945A</text>
<rect x="486.5" y="223.58" width="7.7" height="3.8" fill="#00ffff"/>
<text x="495.60" y="226.68" font-size="3.5px" font-weight="bold" font-style="normal" text-anchor="start" fill="#000" stroke="#000" stroke-width="0.3">P+T</text>
<rect x="486.5" y="228.15" width="7.7" height="3.8" fill="#ff00ff"/>
<text x="495.60" y="231.25" font-size="3.5px" font-weight="bold" font-style="normal" text-anchor="start" fill="#000" stroke="#000" stroke-width="0.3">PTG12</text>
<rect x="486.5" y="232.72" width="7.7" height="3.8" fill="#888888"/>
<text x="495.60" y="235.82" font-size="3.5px" font-weight="bold" font-style="normal" text-anchor="start" fill="#000" stroke="#000" stroke-width="0.3">MTJ16</text>
</svg>
</body></html>
